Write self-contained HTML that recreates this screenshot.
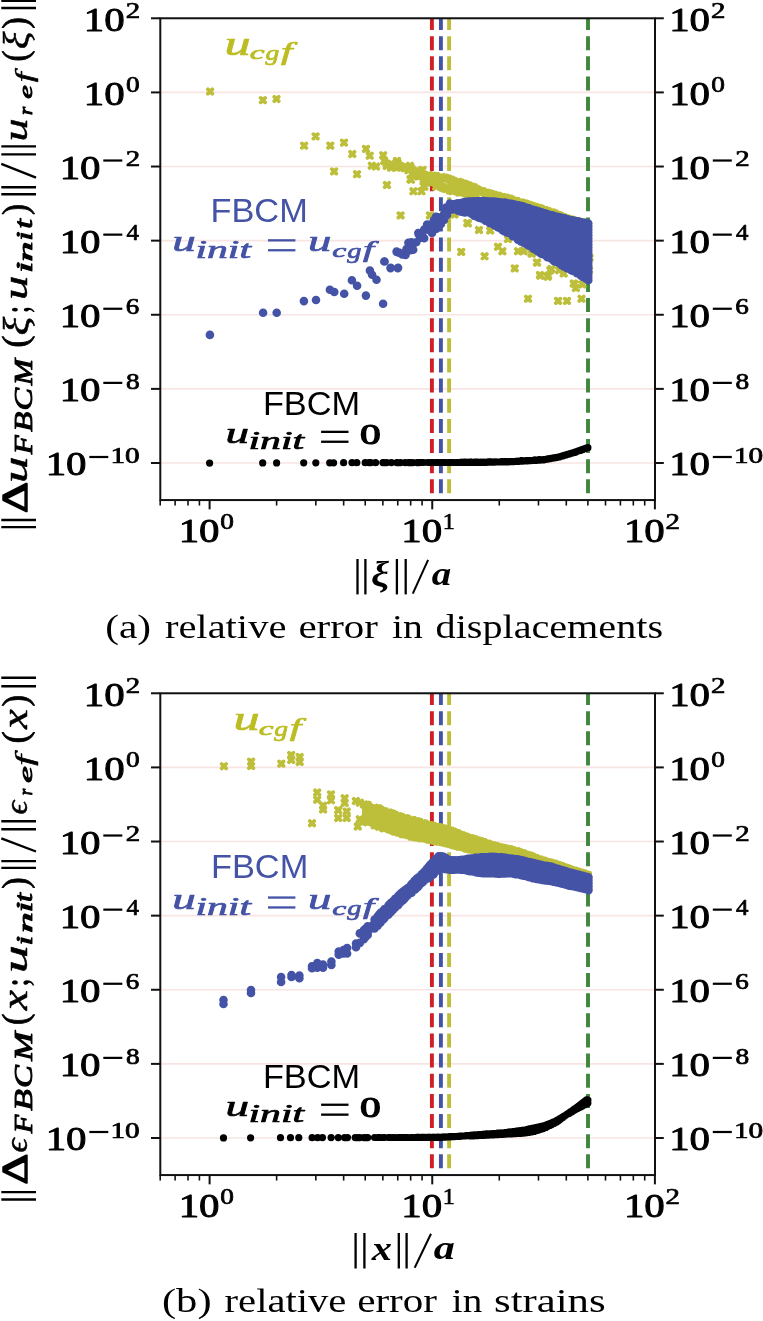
<!DOCTYPE html>
<html><head><meta charset="utf-8"><style>
html,body{margin:0;padding:0;background:#fff;}
body{width:763px;height:1321px;overflow:hidden;}
svg{display:block;filter:blur(0.35px);}
</style></head><body>
<svg width="763" height="1321" viewBox="0 0 763 1321">
<line x1="161.3" y1="92.40" x2="654.0" y2="92.40" stroke="#f9e4e4" stroke-width="1.6"/>
<line x1="161.3" y1="166.52" x2="654.0" y2="166.52" stroke="#f9e4e4" stroke-width="1.6"/>
<line x1="161.3" y1="240.64" x2="654.0" y2="240.64" stroke="#f9e4e4" stroke-width="1.6"/>
<line x1="161.3" y1="314.76" x2="654.0" y2="314.76" stroke="#f9e4e4" stroke-width="1.6"/>
<line x1="161.3" y1="388.88" x2="654.0" y2="388.88" stroke="#f9e4e4" stroke-width="1.6"/>
<line x1="161.3" y1="463.00" x2="654.0" y2="463.00" stroke="#f9e4e4" stroke-width="1.6"/>
<line x1="431.9" y1="18.28" x2="431.9" y2="499.06" stroke="#d21f26" stroke-width="3.9" stroke-dasharray="14,6.14" stroke-dashoffset="2.2"/>
<line x1="440.9" y1="18.28" x2="440.9" y2="499.06" stroke="#4453a6" stroke-width="3.9" stroke-dasharray="14,6.14" stroke-dashoffset="2.2"/>
<line x1="449.1" y1="18.28" x2="449.1" y2="499.06" stroke="#bdbf3a" stroke-width="3.9" stroke-dasharray="14,6.14" stroke-dashoffset="2.2"/>
<line x1="588.0" y1="18.28" x2="588.0" y2="499.06" stroke="#3e873c" stroke-width="3.9" stroke-dasharray="14,6.14" stroke-dashoffset="2.2"/>
<line x1="161.3" y1="767.40" x2="654.0" y2="767.40" stroke="#f9e4e4" stroke-width="1.6"/>
<line x1="161.3" y1="841.52" x2="654.0" y2="841.52" stroke="#f9e4e4" stroke-width="1.6"/>
<line x1="161.3" y1="915.64" x2="654.0" y2="915.64" stroke="#f9e4e4" stroke-width="1.6"/>
<line x1="161.3" y1="989.76" x2="654.0" y2="989.76" stroke="#f9e4e4" stroke-width="1.6"/>
<line x1="161.3" y1="1063.88" x2="654.0" y2="1063.88" stroke="#f9e4e4" stroke-width="1.6"/>
<line x1="161.3" y1="1138.00" x2="654.0" y2="1138.00" stroke="#f9e4e4" stroke-width="1.6"/>
<line x1="431.9" y1="693.28" x2="431.9" y2="1174.06" stroke="#d21f26" stroke-width="3.9" stroke-dasharray="14,6.14" stroke-dashoffset="2.2"/>
<line x1="440.9" y1="693.28" x2="440.9" y2="1174.06" stroke="#4453a6" stroke-width="3.9" stroke-dasharray="14,6.14" stroke-dashoffset="2.2"/>
<line x1="449.1" y1="693.28" x2="449.1" y2="1174.06" stroke="#bdbf3a" stroke-width="3.9" stroke-dasharray="14,6.14" stroke-dashoffset="2.2"/>
<line x1="588.0" y1="693.28" x2="588.0" y2="1174.06" stroke="#3e873c" stroke-width="3.9" stroke-dasharray="14,6.14" stroke-dashoffset="2.2"/>
<path d="M207.9 89.3l4.4 4.4m0 -4.4l-4.4 4.4M260.7 97.9l4.4 4.4m0 -4.4l-4.4 4.4M274.3 96.8l4.4 4.4m0 -4.4l-4.4 4.4M301.9 143.4l4.4 4.4m0 -4.4l-4.4 4.4M313.4 134.2l4.4 4.4m0 -4.4l-4.4 4.4M328.1 143.4l4.4 4.4m0 -4.4l-4.4 4.4M341.8 140.4l4.4 4.4m0 -4.4l-4.4 4.4M350.1 151.8l4.4 4.4m0 -4.4l-4.4 4.4M331.9 169.2l4.4 4.4m0 -4.4l-4.4 4.4M354.8 171.9l4.4 4.4m0 -4.4l-4.4 4.4M363.8 146.7l4.4 4.4m0 -4.4l-4.4 4.4M367.5 153.4l4.4 4.4m0 -4.4l-4.4 4.4M369.6 163.5l4.4 4.4m0 -4.4l-4.4 4.4M373.8 164.3l4.4 4.4m0 -4.4l-4.4 4.4M381 153l4.4 4.4m0 -4.4l-4.4 4.4M382 158.7l4.4 4.4m0 -4.4l-4.4 4.4M384.7 182.8l4.4 4.4m0 -4.4l-4.4 4.4M388.9 165.6l4.4 4.4m0 -4.4l-4.4 4.4M394.8 158.7l4.4 4.4m0 -4.4l-4.4 4.4M395.2 165l4.4 4.4m0 -4.4l-4.4 4.4M398.4 213.2l4.4 4.4m0 -4.4l-4.4 4.4M402.6 166l4.4 4.4m0 -4.4l-4.4 4.4M407.8 163.5l4.4 4.4m0 -4.4l-4.4 4.4M408.2 177.1l4.4 4.4m0 -4.4l-4.4 4.4M411.2 189.1l4.4 4.4m0 -4.4l-4.4 4.4M415.1 168.1l4.4 4.4m0 -4.4l-4.4 4.4M420.4 167.7l4.4 4.4m0 -4.4l-4.4 4.4M419.3 189.1l4.4 4.4m0 -4.4l-4.4 4.4M422.1 184.5l4.4 4.4m0 -4.4l-4.4 4.4M426.7 172.7l4.4 4.4m0 -4.4l-4.4 4.4M428.8 178.6l4.4 4.4m0 -4.4l-4.4 4.4M434 174.4l4.4 4.4m0 -4.4l-4.4 4.4M434 184.5l4.4 4.4m0 -4.4l-4.4 4.4M427.7 213.2l4.4 4.4m0 -4.4l-4.4 4.4M408.8 177.6l4.4 4.4m0 -4.4l-4.4 4.4M421.4 183.7l4.4 4.4m0 -4.4l-4.4 4.4M465.7 221.2l4.4 4.4m0 -4.4l-4.4 4.4M476.8 227.8l4.4 4.4m0 -4.4l-4.4 4.4M488 228.3l4.4 4.4m0 -4.4l-4.4 4.4M459 249.7l4.4 4.4m0 -4.4l-4.4 4.4M482.4 254.1l4.4 4.4m0 -4.4l-4.4 4.4M495.8 244.6l4.4 4.4m0 -4.4l-4.4 4.4M500.2 249l4.4 4.4m0 -4.4l-4.4 4.4M505.8 236.8l4.4 4.4m0 -4.4l-4.4 4.4M512.5 266.2l4.4 4.4m0 -4.4l-4.4 4.4M515.8 249l4.4 4.4m0 -4.4l-4.4 4.4M521.4 249l4.4 4.4m0 -4.4l-4.4 4.4M529.2 251.2l4.4 4.4m0 -4.4l-4.4 4.4M534.8 260.2l4.4 4.4m0 -4.4l-4.4 4.4M538.1 273.5l4.4 4.4m0 -4.4l-4.4 4.4M545.9 273.5l4.4 4.4m0 -4.4l-4.4 4.4M548.1 268l4.4 4.4m0 -4.4l-4.4 4.4M557 268l4.4 4.4m0 -4.4l-4.4 4.4M561.5 271.3l4.4 4.4m0 -4.4l-4.4 4.4M571.5 281.3l4.4 4.4m0 -4.4l-4.4 4.4M573.7 285.8l4.4 4.4m0 -4.4l-4.4 4.4M525.8 296.5l4.4 4.4m0 -4.4l-4.4 4.4M555.9 298.7l4.4 4.4m0 -4.4l-4.4 4.4M564.8 298.7l4.4 4.4m0 -4.4l-4.4 4.4M579.3 296.5l4.4 4.4m0 -4.4l-4.4 4.4M452.3 212.3l4.4 4.4m0 -4.4l-4.4 4.4M465.1 220.8l4.4 4.4m0 -4.4l-4.4 4.4M545.5 274.5l4.4 4.4m0 -4.4l-4.4 4.4M549.1 266.8l4.4 4.4m0 -4.4l-4.4 4.4M572.1 281.6l4.4 4.4m0 -4.4l-4.4 4.4M580.3 282.2l4.4 4.4m0 -4.4l-4.4 4.4M521.3 248.6l4.4 4.4m0 -4.4l-4.4 4.4M529.6 251.5l4.4 4.4m0 -4.4l-4.4 4.4M587.4 255.6l4.4 4.4m0 -4.4l-4.4 4.4M586.8 267.8l4.4 4.4m0 -4.4l-4.4 4.4M534.9 260.4l4.4 4.4m0 -4.4l-4.4 4.4M537.8 272.8l4.4 4.4m0 -4.4l-4.4 4.4M439.3 174.8l4.4 4.4m0 -4.4l-4.4 4.4M439.3 184.6l4.4 4.4m0 -4.4l-4.4 4.4M440.5 175.6l4.4 4.4m0 -4.4l-4.4 4.4M440.5 184.8l4.4 4.4m0 -4.4l-4.4 4.4M441.6 175.8l4.4 4.4m0 -4.4l-4.4 4.4M441.6 185.8l4.4 4.4m0 -4.4l-4.4 4.4M442.4 175.4l4.4 4.4m0 -4.4l-4.4 4.4M442.4 186.3l4.4 4.4m0 -4.4l-4.4 4.4M443.8 175.9l4.4 4.4m0 -4.4l-4.4 4.4M443.8 186.7l4.4 4.4m0 -4.4l-4.4 4.4M446 176.5l4.4 4.4m0 -4.4l-4.4 4.4M446 186.5l4.4 4.4m0 -4.4l-4.4 4.4M447.7 177.5l4.4 4.4m0 -4.4l-4.4 4.4M447.7 188.3l4.4 4.4m0 -4.4l-4.4 4.4M448.7 177.4l4.4 4.4m0 -4.4l-4.4 4.4M448.7 187.3l4.4 4.4m0 -4.4l-4.4 4.4M450 178.4l4.4 4.4m0 -4.4l-4.4 4.4M450 189.1l4.4 4.4m0 -4.4l-4.4 4.4M451.5 178.8l4.4 4.4m0 -4.4l-4.4 4.4M451.5 188.3l4.4 4.4m0 -4.4l-4.4 4.4M453.7 179.9l4.4 4.4m0 -4.4l-4.4 4.4M453.7 188.1l4.4 4.4m0 -4.4l-4.4 4.4M455.4 180.3l4.4 4.4m0 -4.4l-4.4 4.4M455.4 188.9l4.4 4.4m0 -4.4l-4.4 4.4M456 179.6l4.4 4.4m0 -4.4l-4.4 4.4M456 188.7l4.4 4.4m0 -4.4l-4.4 4.4M457.1 180.2l4.4 4.4m0 -4.4l-4.4 4.4M457.1 190.3l4.4 4.4m0 -4.4l-4.4 4.4M458.7 180.5l4.4 4.4m0 -4.4l-4.4 4.4M458.7 190.2l4.4 4.4m0 -4.4l-4.4 4.4M459.3 181.3l4.4 4.4m0 -4.4l-4.4 4.4M459.3 189.8l4.4 4.4m0 -4.4l-4.4 4.4M460.8 181.7l4.4 4.4m0 -4.4l-4.4 4.4M460.8 189.5l4.4 4.4m0 -4.4l-4.4 4.4M461.6 181.4l4.4 4.4m0 -4.4l-4.4 4.4M461.6 190l4.4 4.4m0 -4.4l-4.4 4.4M462.6 182.5l4.4 4.4m0 -4.4l-4.4 4.4M462.6 190.6l4.4 4.4m0 -4.4l-4.4 4.4M463.3 182.3l4.4 4.4m0 -4.4l-4.4 4.4M463.3 191.1l4.4 4.4m0 -4.4l-4.4 4.4M463.8 182.6l4.4 4.4m0 -4.4l-4.4 4.4M463.8 190.6l4.4 4.4m0 -4.4l-4.4 4.4M465.5 183.6l4.4 4.4m0 -4.4l-4.4 4.4M465.5 191.7l4.4 4.4m0 -4.4l-4.4 4.4M466.2 183.2l4.4 4.4m0 -4.4l-4.4 4.4M466.2 191.6l4.4 4.4m0 -4.4l-4.4 4.4M467.5 184l4.4 4.4m0 -4.4l-4.4 4.4M467.5 192.5l4.4 4.4m0 -4.4l-4.4 4.4M467.9 184.4l4.4 4.4m0 -4.4l-4.4 4.4M467.9 191.4l4.4 4.4m0 -4.4l-4.4 4.4M468.8 185.1l4.4 4.4m0 -4.4l-4.4 4.4M468.8 191.2l4.4 4.4m0 -4.4l-4.4 4.4M469.3 184.7l4.4 4.4m0 -4.4l-4.4 4.4M469.3 192.6l4.4 4.4m0 -4.4l-4.4 4.4M469.9 184.6l4.4 4.4m0 -4.4l-4.4 4.4M469.9 192.2l4.4 4.4m0 -4.4l-4.4 4.4M471.8 185.3l4.4 4.4m0 -4.4l-4.4 4.4M471.8 192.9l4.4 4.4m0 -4.4l-4.4 4.4M472.6 186.6l4.4 4.4m0 -4.4l-4.4 4.4M472.6 192.9l4.4 4.4m0 -4.4l-4.4 4.4M473.2 187l4.4 4.4m0 -4.4l-4.4 4.4M473.2 192.5l4.4 4.4m0 -4.4l-4.4 4.4M473.8 187l4.4 4.4m0 -4.4l-4.4 4.4M473.8 193.2l4.4 4.4m0 -4.4l-4.4 4.4M474.7 187.3l4.4 4.4m0 -4.4l-4.4 4.4M475.5 187.5l4.4 4.4m0 -4.4l-4.4 4.4M476.1 188.2l4.4 4.4m0 -4.4l-4.4 4.4M477.7 189.1l4.4 4.4m0 -4.4l-4.4 4.4M478.3 188.7l4.4 4.4m0 -4.4l-4.4 4.4M479.3 189.3l4.4 4.4m0 -4.4l-4.4 4.4M480.3 189l4.4 4.4m0 -4.4l-4.4 4.4M481.4 190.1l4.4 4.4m0 -4.4l-4.4 4.4M481.9 190.2l4.4 4.4m0 -4.4l-4.4 4.4M483.2 191.1l4.4 4.4m0 -4.4l-4.4 4.4M483.8 191.1l4.4 4.4m0 -4.4l-4.4 4.4M484.3 190.6l4.4 4.4m0 -4.4l-4.4 4.4M485.2 191.1l4.4 4.4m0 -4.4l-4.4 4.4M485.7 191.6l4.4 4.4m0 -4.4l-4.4 4.4M486.9 191.2l4.4 4.4m0 -4.4l-4.4 4.4M487.3 191.9l4.4 4.4m0 -4.4l-4.4 4.4M487.9 191.7l4.4 4.4m0 -4.4l-4.4 4.4M488.6 191.9l4.4 4.4m0 -4.4l-4.4 4.4M489.6 192l4.4 4.4m0 -4.4l-4.4 4.4M490.5 193.1l4.4 4.4m0 -4.4l-4.4 4.4M492.1 192.7l4.4 4.4m0 -4.4l-4.4 4.4M492.5 193l4.4 4.4m0 -4.4l-4.4 4.4M493.6 193.4l4.4 4.4m0 -4.4l-4.4 4.4M494.5 194.2l4.4 4.4m0 -4.4l-4.4 4.4M495.5 193.5l4.4 4.4m0 -4.4l-4.4 4.4M496.7 194.3l4.4 4.4m0 -4.4l-4.4 4.4M497.4 194.6l4.4 4.4m0 -4.4l-4.4 4.4M498.2 195.1l4.4 4.4m0 -4.4l-4.4 4.4M499.1 195.3l4.4 4.4m0 -4.4l-4.4 4.4M499.5 195.5l4.4 4.4m0 -4.4l-4.4 4.4M500.2 194.9l4.4 4.4m0 -4.4l-4.4 4.4M500.8 195.2l4.4 4.4m0 -4.4l-4.4 4.4M501.2 195.3l4.4 4.4m0 -4.4l-4.4 4.4M501.8 196.1l4.4 4.4m0 -4.4l-4.4 4.4M502.6 196.3l4.4 4.4m0 -4.4l-4.4 4.4M503.1 195.5l4.4 4.4m0 -4.4l-4.4 4.4M503.5 195.6l4.4 4.4m0 -4.4l-4.4 4.4M504.1 195.9l4.4 4.4m0 -4.4l-4.4 4.4M504.7 196l4.4 4.4m0 -4.4l-4.4 4.4M505.4 196.5l4.4 4.4m0 -4.4l-4.4 4.4M506 196.8l4.4 4.4m0 -4.4l-4.4 4.4M506.6 196.5l4.4 4.4m0 -4.4l-4.4 4.4M507.5 196.4l4.4 4.4m0 -4.4l-4.4 4.4M508.5 197.3l4.4 4.4m0 -4.4l-4.4 4.4M509.1 197.4l4.4 4.4m0 -4.4l-4.4 4.4M510 198l4.4 4.4m0 -4.4l-4.4 4.4M510.6 198.6l4.4 4.4m0 -4.4l-4.4 4.4M511.7 198.7l4.4 4.4m0 -4.4l-4.4 4.4M512.2 198.7l4.4 4.4m0 -4.4l-4.4 4.4M512.7 199l4.4 4.4m0 -4.4l-4.4 4.4M513.3 199.2l4.4 4.4m0 -4.4l-4.4 4.4M513.9 198.7l4.4 4.4m0 -4.4l-4.4 4.4M514.7 200l4.4 4.4m0 -4.4l-4.4 4.4M515.7 200.2l4.4 4.4m0 -4.4l-4.4 4.4M516.4 200.6l4.4 4.4m0 -4.4l-4.4 4.4M516.9 200.6l4.4 4.4m0 -4.4l-4.4 4.4M517.7 200.4l4.4 4.4m0 -4.4l-4.4 4.4M518.2 200.6l4.4 4.4m0 -4.4l-4.4 4.4M518.7 200.4l4.4 4.4m0 -4.4l-4.4 4.4M519.1 201.2l4.4 4.4m0 -4.4l-4.4 4.4M519.6 200.6l4.4 4.4m0 -4.4l-4.4 4.4M520 200.7l4.4 4.4m0 -4.4l-4.4 4.4M520.6 201.1l4.4 4.4m0 -4.4l-4.4 4.4M521.1 201.2l4.4 4.4m0 -4.4l-4.4 4.4M521.9 201.7l4.4 4.4m0 -4.4l-4.4 4.4M522.4 201.4l4.4 4.4m0 -4.4l-4.4 4.4M523 201.6l4.4 4.4m0 -4.4l-4.4 4.4M523.5 201.9l4.4 4.4m0 -4.4l-4.4 4.4M524.1 202l4.4 4.4m0 -4.4l-4.4 4.4M524.7 202.5l4.4 4.4m0 -4.4l-4.4 4.4M525.6 202.4l4.4 4.4m0 -4.4l-4.4 4.4M526 203.5l4.4 4.4m0 -4.4l-4.4 4.4M526.8 203.4l4.4 4.4m0 -4.4l-4.4 4.4M527.5 203.1l4.4 4.4m0 -4.4l-4.4 4.4M528.3 203.5l4.4 4.4m0 -4.4l-4.4 4.4M528.9 203.8l4.4 4.4m0 -4.4l-4.4 4.4M529.6 204l4.4 4.4m0 -4.4l-4.4 4.4M530.2 203.9l4.4 4.4m0 -4.4l-4.4 4.4M530.8 205l4.4 4.4m0 -4.4l-4.4 4.4M531.2 205.3l4.4 4.4m0 -4.4l-4.4 4.4M531.7 204.8l4.4 4.4m0 -4.4l-4.4 4.4M532.3 205l4.4 4.4m0 -4.4l-4.4 4.4M532.8 204.7l4.4 4.4m0 -4.4l-4.4 4.4M533.2 204.8l4.4 4.4m0 -4.4l-4.4 4.4M533.7 205.3l4.4 4.4m0 -4.4l-4.4 4.4M534.5 205.5l4.4 4.4m0 -4.4l-4.4 4.4M535 206.3l4.4 4.4m0 -4.4l-4.4 4.4M535.7 205.7l4.4 4.4m0 -4.4l-4.4 4.4M536.3 205.7l4.4 4.4m0 -4.4l-4.4 4.4M536.9 207.1l4.4 4.4m0 -4.4l-4.4 4.4M537.4 206.7l4.4 4.4m0 -4.4l-4.4 4.4M537.9 206.4l4.4 4.4m0 -4.4l-4.4 4.4M538.3 207l4.4 4.4m0 -4.4l-4.4 4.4M538.8 206.5l4.4 4.4m0 -4.4l-4.4 4.4M539.5 207.3l4.4 4.4m0 -4.4l-4.4 4.4M540 208.1l4.4 4.4m0 -4.4l-4.4 4.4M540.4 208.1l4.4 4.4m0 -4.4l-4.4 4.4M540.9 208l4.4 4.4m0 -4.4l-4.4 4.4M541.8 207.7l4.4 4.4m0 -4.4l-4.4 4.4M542.4 208.1l4.4 4.4m0 -4.4l-4.4 4.4M542.9 208l4.4 4.4m0 -4.4l-4.4 4.4M543.6 208.9l4.4 4.4m0 -4.4l-4.4 4.4M544.1 208.8l4.4 4.4m0 -4.4l-4.4 4.4M544.6 209.2l4.4 4.4m0 -4.4l-4.4 4.4M545.2 208.9l4.4 4.4m0 -4.4l-4.4 4.4M545.6 208.9l4.4 4.4m0 -4.4l-4.4 4.4M546.3 209.8l4.4 4.4m0 -4.4l-4.4 4.4M546.8 210.2l4.4 4.4m0 -4.4l-4.4 4.4M547.2 210.1l4.4 4.4m0 -4.4l-4.4 4.4M547.8 210.3l4.4 4.4m0 -4.4l-4.4 4.4M548.3 210.5l4.4 4.4m0 -4.4l-4.4 4.4M548.7 210.6l4.4 4.4m0 -4.4l-4.4 4.4M549.5 210.3l4.4 4.4m0 -4.4l-4.4 4.4M550.1 210.8l4.4 4.4m0 -4.4l-4.4 4.4M550.6 210.8l4.4 4.4m0 -4.4l-4.4 4.4M551.2 210.7l4.4 4.4m0 -4.4l-4.4 4.4M551.6 210.9l4.4 4.4m0 -4.4l-4.4 4.4M552.1 211.4l4.4 4.4m0 -4.4l-4.4 4.4M552.6 211.5l4.4 4.4m0 -4.4l-4.4 4.4M553 212.2l4.4 4.4m0 -4.4l-4.4 4.4M553.7 212.8l4.4 4.4m0 -4.4l-4.4 4.4M554.2 212.4l4.4 4.4m0 -4.4l-4.4 4.4M554.7 213.2l4.4 4.4m0 -4.4l-4.4 4.4M555.2 213.5l4.4 4.4m0 -4.4l-4.4 4.4M555.7 213.6l4.4 4.4m0 -4.4l-4.4 4.4M556.2 213.1l4.4 4.4m0 -4.4l-4.4 4.4M556.6 213.1l4.4 4.4m0 -4.4l-4.4 4.4M557.2 213.4l4.4 4.4m0 -4.4l-4.4 4.4M557.6 213.5l4.4 4.4m0 -4.4l-4.4 4.4M558.1 213.8l4.4 4.4m0 -4.4l-4.4 4.4M558.5 214.4l4.4 4.4m0 -4.4l-4.4 4.4M559.1 215l4.4 4.4m0 -4.4l-4.4 4.4M559.5 215.2l4.4 4.4m0 -4.4l-4.4 4.4M560 215l4.4 4.4m0 -4.4l-4.4 4.4M560.6 215.4l4.4 4.4m0 -4.4l-4.4 4.4M561 215.8l4.4 4.4m0 -4.4l-4.4 4.4M561.5 215.1l4.4 4.4m0 -4.4l-4.4 4.4M562 216l4.4 4.4m0 -4.4l-4.4 4.4M562.5 216.6l4.4 4.4m0 -4.4l-4.4 4.4M562.9 216.6l4.4 4.4m0 -4.4l-4.4 4.4M563.3 216.7l4.4 4.4m0 -4.4l-4.4 4.4M563.8 216.5l4.4 4.4m0 -4.4l-4.4 4.4M564.4 216.3l4.4 4.4m0 -4.4l-4.4 4.4M564.8 217.1l4.4 4.4m0 -4.4l-4.4 4.4M565.3 216.7l4.4 4.4m0 -4.4l-4.4 4.4M565.8 217.4l4.4 4.4m0 -4.4l-4.4 4.4M566.3 217.7l4.4 4.4m0 -4.4l-4.4 4.4M566.8 217.2l4.4 4.4m0 -4.4l-4.4 4.4M567.3 217.3l4.4 4.4m0 -4.4l-4.4 4.4M567.7 218.1l4.4 4.4m0 -4.4l-4.4 4.4M568.2 218l4.4 4.4m0 -4.4l-4.4 4.4M568.6 217.4l4.4 4.4m0 -4.4l-4.4 4.4M569.1 217.5l4.4 4.4m0 -4.4l-4.4 4.4M569.6 217.7l4.4 4.4m0 -4.4l-4.4 4.4M570 218.7l4.4 4.4m0 -4.4l-4.4 4.4M570.5 218.7l4.4 4.4m0 -4.4l-4.4 4.4M570.9 218.1l4.4 4.4m0 -4.4l-4.4 4.4M571.4 219l4.4 4.4m0 -4.4l-4.4 4.4M571.9 219.3l4.4 4.4m0 -4.4l-4.4 4.4M572.3 219.1l4.4 4.4m0 -4.4l-4.4 4.4M573 218.9l4.4 4.4m0 -4.4l-4.4 4.4M573.6 219.2l4.4 4.4m0 -4.4l-4.4 4.4M574.2 218.9l4.4 4.4m0 -4.4l-4.4 4.4M574.7 218.8l4.4 4.4m0 -4.4l-4.4 4.4M575.2 220.1l4.4 4.4m0 -4.4l-4.4 4.4M575.6 219.8l4.4 4.4m0 -4.4l-4.4 4.4M576.1 219.8l4.4 4.4m0 -4.4l-4.4 4.4M576.6 220.4l4.4 4.4m0 -4.4l-4.4 4.4M577 219.8l4.4 4.4m0 -4.4l-4.4 4.4M577.4 220.5l4.4 4.4m0 -4.4l-4.4 4.4M577.9 220.5l4.4 4.4m0 -4.4l-4.4 4.4M578.4 219.9l4.4 4.4m0 -4.4l-4.4 4.4M578.8 220l4.4 4.4m0 -4.4l-4.4 4.4M579.2 220.2l4.4 4.4m0 -4.4l-4.4 4.4M579.7 220.2l4.4 4.4m0 -4.4l-4.4 4.4M580.3 220.7l4.4 4.4m0 -4.4l-4.4 4.4M580.7 220.5l4.4 4.4m0 -4.4l-4.4 4.4M581.2 220.8l4.4 4.4m0 -4.4l-4.4 4.4M581.7 220.5l4.4 4.4m0 -4.4l-4.4 4.4M582.2 221.6l4.4 4.4m0 -4.4l-4.4 4.4M582.6 221l4.4 4.4m0 -4.4l-4.4 4.4M583.1 221.2l4.4 4.4m0 -4.4l-4.4 4.4M583.5 221.5l4.4 4.4m0 -4.4l-4.4 4.4M583.9 222l4.4 4.4m0 -4.4l-4.4 4.4M584.4 221.5l4.4 4.4m0 -4.4l-4.4 4.4M584.8 222.3l4.4 4.4m0 -4.4l-4.4 4.4M585.3 221.9l4.4 4.4m0 -4.4l-4.4 4.4M585.7 222l4.4 4.4m0 -4.4l-4.4 4.4M384.5 163.8l4.4 4.4m0 -4.4l-4.4 4.4M384.5 161.4l4.4 4.4m0 -4.4l-4.4 4.4M389.2 163.2l4.4 4.4m0 -4.4l-4.4 4.4M389.2 161.7l4.4 4.4m0 -4.4l-4.4 4.4M394.6 160.1l4.4 4.4m0 -4.4l-4.4 4.4M394.6 165.4l4.4 4.4m0 -4.4l-4.4 4.4M395.6 161.3l4.4 4.4m0 -4.4l-4.4 4.4M395.6 163.3l4.4 4.4m0 -4.4l-4.4 4.4M398.4 165.3l4.4 4.4m0 -4.4l-4.4 4.4M398.4 164.1l4.4 4.4m0 -4.4l-4.4 4.4M402.9 164l4.4 4.4m0 -4.4l-4.4 4.4M402.9 165.3l4.4 4.4m0 -4.4l-4.4 4.4M406.2 166.6l4.4 4.4m0 -4.4l-4.4 4.4M406.2 168.1l4.4 4.4m0 -4.4l-4.4 4.4M407.7 164.2l4.4 4.4m0 -4.4l-4.4 4.4M407.7 167.2l4.4 4.4m0 -4.4l-4.4 4.4M408.5 165.5l4.4 4.4m0 -4.4l-4.4 4.4M408.5 165.7l4.4 4.4m0 -4.4l-4.4 4.4M410.7 170.1l4.4 4.4m0 -4.4l-4.4 4.4M410.7 168.3l4.4 4.4m0 -4.4l-4.4 4.4M414.8 170.8l4.4 4.4m0 -4.4l-4.4 4.4M414.8 172.3l4.4 4.4m0 -4.4l-4.4 4.4M416.1 174.3l4.4 4.4m0 -4.4l-4.4 4.4M416.1 170.5l4.4 4.4m0 -4.4l-4.4 4.4M416.8 172.2l4.4 4.4m0 -4.4l-4.4 4.4M416.8 171.3l4.4 4.4m0 -4.4l-4.4 4.4M418.7 172.3l4.4 4.4m0 -4.4l-4.4 4.4M418.7 173.8l4.4 4.4m0 -4.4l-4.4 4.4M419.9 172.3l4.4 4.4m0 -4.4l-4.4 4.4M419.9 173l4.4 4.4m0 -4.4l-4.4 4.4M421.6 173.3l4.4 4.4m0 -4.4l-4.4 4.4M421.6 177.4l4.4 4.4m0 -4.4l-4.4 4.4M425.5 177.1l4.4 4.4m0 -4.4l-4.4 4.4M425.5 178.7l4.4 4.4m0 -4.4l-4.4 4.4M426.5 179.8l4.4 4.4m0 -4.4l-4.4 4.4M426.5 173.5l4.4 4.4m0 -4.4l-4.4 4.4M428.6 177l4.4 4.4m0 -4.4l-4.4 4.4M428.6 180.5l4.4 4.4m0 -4.4l-4.4 4.4M430.1 179.6l4.4 4.4m0 -4.4l-4.4 4.4M430.1 173.5l4.4 4.4m0 -4.4l-4.4 4.4M431.5 173.7l4.4 4.4m0 -4.4l-4.4 4.4M431.5 176.4l4.4 4.4m0 -4.4l-4.4 4.4M433.8 173.9l4.4 4.4m0 -4.4l-4.4 4.4M433.8 175.2l4.4 4.4m0 -4.4l-4.4 4.4M434.2 174.1l4.4 4.4m0 -4.4l-4.4 4.4M434.2 178.5l4.4 4.4m0 -4.4l-4.4 4.4M435.1 179.4l4.4 4.4m0 -4.4l-4.4 4.4M435.1 180.3l4.4 4.4m0 -4.4l-4.4 4.4M435.5 175l4.4 4.4m0 -4.4l-4.4 4.4M435.5 179l4.4 4.4m0 -4.4l-4.4 4.4M437.6 178.8l4.4 4.4m0 -4.4l-4.4 4.4M437.6 175.5l4.4 4.4m0 -4.4l-4.4 4.4" fill="none" stroke="#bdbf3a" stroke-width="3.8" stroke-linecap="round"/>
<path d="M447 204.8 L449 204 L451 203.3 L453 202.7 L455 202.1 L457 201.6 L459 201.2 L461 200.9 L463 200.5 L465 200.2 L467 200 L469 199.9 L471 199.8 L473 199.6 L475 199.5 L477 199.5 L479 199.4 L481 199.4 L483 199.4 L485 199.4 L487 199.5 L489 199.6 L491 199.7 L493 199.8 L495 199.9 L497 200.1 L499 200.3 L501 200.5 L503 200.7 L505 200.9 L507 201.2 L509 201.6 L511 201.9 L513 202.2 L515 202.6 L517 203.1 L519 203.6 L521 204.1 L523 204.7 L525 205.2 L527 205.9 L529 206.5 L531 207.2 L533 207.9 L535 208.6 L537 209.2 L539 209.8 L541 210.4 L543 211 L545 211.6 L547 212.1 L549 212.7 L551 213.3 L553 213.8 L555 214.4 L557 214.9 L559 215.4 L561 215.9 L563 216.4 L565 216.9 L567 217.3 L569 217.8 L571 218.3 L573 218.7 L575 219.2 L577 219.6 L579 219.9 L581 220.3 L583 220.7 L585 221.1 L587 221.5 L589 221.9 L589 282.4 L587 281.2 L585 280 L583 278.8 L581 277.6 L579 276.4 L577 275.1 L575 273.9 L573 272.9 L571 271.9 L569 270.9 L567 269.9 L565 268.9 L563 267.9 L561 266.8 L559 265.8 L557 264.7 L555 263.6 L553 262.6 L551 261.4 L549 260.2 L547 259 L545 257.8 L543 256.5 L541 255.3 L539 254.1 L537 252.8 L535 251.6 L533 250.3 L531 249 L529 247.9 L527 246.7 L525 245.6 L523 244.5 L521 243.3 L519 242.2 L517 241 L515 239.7 L513 238.5 L511 237.2 L509 235.9 L507 234.7 L505 233.5 L503 232.3 L501 231.1 L499 229.8 L497 228.6 L495 227.5 L493 226.4 L491 225.4 L489 224.5 L487 223.5 L485 222.5 L483 221.4 L481 220.6 L479 219.8 L477 219.1 L475 218.4 L473 217.4 L471 216.4 L469 215.6 L467 215.1 L465 214.5 L463 213.9 L461 213.4 L459 212.9 L457 212.4 L455 211.9 L453 211.9 L451 211.9 L449 211.9 L447 211.9Z" fill="#4453a6"/>
<path d="M209.9 334.9h0M263.1 312.8h0M276.7 312.8h0M303.9 301.1h0M316 300h0M329.9 289.7h0M334.3 292h0M344.2 293.8h0M351.9 280.2h0M357.1 285.7h0M365.9 295.6h0M369.9 270.6h0M372.1 274.7h0M376.5 279.8h0M383.1 303.7h0M384.6 261.5h0M390.5 268.1h0M397.8 268.1h0M396.7 251.9h0M402.2 254.5h0M411.4 242.4h0M413.2 249.7h0M418.7 234.3h0M424.2 229.5h0M429.7 224.8h0M435.2 218.5h0M384.3 261.5h0M390.7 267.8h0M398.1 267.8h0M396.6 251.6h0M399 252.6h0M401.5 253.6h0M403.5 254.3h0M405.5 255h0M408.4 242.8h0M410.4 244h0M412.4 243.8h0M414.4 243h0M416.3 242.3h0M410.4 250.1h0M406.5 249h0M418.3 233h0M420.2 233.5h0M422.2 233.9h0M424.2 238.3h0M420 238h0M427.1 224.6h0M429 225.3h0M431 226h0M433 229.5h0M429 230h0M436 216.7h0M438 217.2h0M439.9 217.7h0M442.8 219.7h0M439 222h0M445.8 210.8h0M447.2 209.8h0M448.7 208.8h0M444 214h0M447 215h0M434 220h0M436 224h0M441 224h0M444 220h0M432 233h0M436 229h0M446 207.6h0M446 208.7h0M448.2 206.8h0M448.2 209.9h0M449.9 205.7h0M449.9 203.6h0M450.9 205.7h0M450.9 209.7h0M452.2 204.8h0M452.2 207.8h0M453.7 204.4h0M453.7 209.1h0M455.9 203.7h0M455.9 208.9h0M457.6 203.2h0M457.6 207.7h0M458.2 203.6h0M458.2 210.6h0M459.3 203.2h0M459.3 211.1h0M460.9 203.1h0M460.9 210.9h0M461.5 203.3h0M461.5 211.8h0M463 202.9h0M463 211.2h0M463.8 202.3h0M463.8 212.2h0M464.8 202h0M464.8 212.4h0M465.5 202h0M465.5 211.2h0M466 202.2h0M466 209.6h0M467.7 201.9h0M467.7 211.4h0M468.4 201.8h0M468.4 211.2h0M469.7 202.1h0M469.7 212.7h0M470.1 201.6h0M470.1 211.1h0M471 201.8h0M471 213.5h0M471.5 201.5h0M471.5 212h0M472.1 202h0M472.1 214.1h0M474 201.3h0M474 215.7h0M474.8 201.9h0M474.8 215.9h0M475.4 201.6h0M475.4 215.4h0M476 201.9h0M476 214.7h0M476.9 201.4h0M476.9 215.5h0M477.7 201.4h0M477.7 215.7h0M478.3 201.3h0M478.3 217.5h0M479.9 201.3h0M479.9 217.9h0M480.5 201.4h0M480.5 217.4h0M481.5 201.4h0M481.5 215.5h0M482.5 201.5h0M482.5 218.6h0M483.6 201.1h0M483.6 218.2h0M484.1 201.3h0M484.1 216.7h0M485.4 201.6h0M485.4 220.6h0M486 201.3h0M486 216.2h0M486.5 201.3h0M486.5 220.7h0M487.4 201.9h0M487.4 219.6h0M487.9 201.9h0M487.9 221.1h0M489.1 201.6h0M489.1 219.4h0M489.5 202.1h0M489.5 222.9h0M490.1 201.6h0M490.1 221.6h0M490.8 201.9h0M490.8 220.7h0M491.8 201.8h0M491.8 223.7h0M492.7 201.6h0M492.7 223.9h0M494.3 201.6h0M494.3 225.3h0M494.7 201.7h0M494.7 224h0M495.8 201.7h0M495.8 223.8h0M496.7 202.3h0M496.7 223h0M497.7 202.1h0M497.7 227.2h0M498.9 202.4h0M498.9 226.2h0M499.6 202.2h0M499.6 226.9h0M500.4 202.9h0M500.4 228.4h0M501.3 203h0M501.3 227.9h0M501.7 203h0M501.7 229.3h0M502.4 202.6h0M502.4 230.1h0M503 202.7h0M503 230.5h0M503.4 202.8h0M503.4 229.3h0M504 202.9h0M504 231.1h0M504.8 202.6h0M504.8 231.5h0M505.3 203h0M505.3 231h0M505.7 202.8h0M505.7 230.4h0M506.3 203h0M506.3 232.3h0M506.9 203.4h0M506.9 229.3h0M507.6 203.6h0M507.6 232.7h0M508.2 203.7h0M508.2 232.1h0M508.8 203.5h0M508.8 232.6h0M509.7 204.2h0M509.7 232.6h0M510.7 204.1h0M510.7 232.5h0M511.3 203.7h0M511.3 233.3h0M512.2 204.3h0M512.2 232.3h0M512.8 204.5h0M512.8 236.1h0M513.9 204.5h0M513.9 236.2h0M514.4 204.6h0M514.4 235.6h0M514.9 204.9h0M514.9 234.5h0M515.5 204.9h0M515.5 235.7h0M516.1 205.2h0M516.1 236.6h0M516.9 205h0M516.9 238h0M517.9 205.3h0M517.9 239.6h0M518.6 205.3h0M518.6 238.8h0M519.1 205.9h0M519.1 238.2h0M519.9 206.1h0M519.9 239.9h0M520.4 205.7h0M520.4 239h0M520.9 206.5h0M520.9 241.5h0M521.3 206.4h0M521.3 239.2h0M521.8 206.6h0M521.8 238.8h0M522.2 206.4h0M522.2 240.9h0M522.8 206.4h0M522.8 242.3h0M523.3 206.6h0M523.3 239.4h0M524.1 207.3h0M524.1 240.9h0M524.6 207.1h0M524.6 243.3h0M525.2 207.4h0M525.2 242.5h0M525.7 207.6h0M525.7 240.8h0M526.3 207.9h0M526.3 243.5h0M526.9 207.8h0M526.9 244.4h0M527.8 208.4h0M527.8 244.5h0M528.2 208h0M528.2 243h0M529 208.3h0M529 245.7h0M529.7 209.1h0M529.7 243.3h0M530.5 209.3h0M530.5 246.3h0M531.1 209.3h0M531.1 244.8h0M531.8 209.6h0M531.8 244.4h0M532.4 209.6h0M532.4 245h0M533 210.4h0M533 248.2h0M533.4 210.1h0M533.4 248.7h0M533.9 210.6h0M533.9 246.8h0M534.5 210.3h0M534.5 249h0M535 210.5h0M535 248.4h0M535.4 210.9h0M535.4 249.6h0M535.9 210.7h0M535.9 245h0M536.7 210.9h0M536.7 250.1h0M537.2 211.6h0M537.2 246.6h0M537.9 211.7h0M537.9 251.4h0M538.5 211.5h0M538.5 250h0M539.1 211.6h0M539.1 250.9h0M539.6 211.7h0M539.6 250.3h0M540.1 212.1h0M540.1 252.9h0M540.5 212.1h0M540.5 252.2h0M541 212.8h0M541 252h0M541.7 212.3h0M541.7 254h0M542.2 212.6h0M542.2 250.1h0M542.6 213.3h0M542.6 253.5h0M543.1 213h0M543.1 250.3h0M544 213.3h0M544 249.1h0M544.6 213.6h0M544.6 250.8h0M545.1 213.6h0M545.1 254.5h0M545.8 213.6h0M545.8 255.7h0M546.3 213.7h0M546.3 255.9h0M546.8 214.6h0M546.8 255.6h0M547.4 214.2h0M547.4 257.3h0M547.8 214.2h0M547.8 255.1h0M548.5 214.6h0M548.5 253.8h0M549 215.1h0M549 257.2h0M549.4 215h0M549.4 254.3h0M550 215.1h0M550 256.3h0M550.5 215.4h0M550.5 256h0M550.9 215.3h0M550.9 258.5h0M551.7 215.8h0M551.7 259h0M552.3 215.4h0M552.3 259h0M552.8 216.2h0M552.8 259h0M553.4 215.9h0M553.4 259.3h0M553.8 216h0M553.8 260.9h0M554.3 216.1h0M554.3 255.5h0M554.8 216.6h0M554.8 260.9h0M555.2 216.5h0M555.2 259.4h0M555.9 216.5h0M555.9 261.6h0M556.4 217.2h0M556.4 261.4h0M556.9 217h0M556.9 262h0M557.4 217.5h0M557.4 258.5h0M557.9 217.2h0M557.9 262.5h0M558.4 217h0M558.4 262.6h0M558.8 217.3h0M558.8 262.6h0M559.4 217.4h0M559.4 263.4h0M559.8 217.8h0M559.8 261.7h0M560.3 217.8h0M560.3 262.3h0M560.7 217.9h0M560.7 262.8h0M561.3 217.9h0M561.3 264.9h0M561.7 217.8h0M561.7 264.5h0M562.2 218h0M562.2 260.1h0M562.8 218.5h0M562.8 263h0M563.2 218.3h0M563.2 263.1h0M563.7 218.5h0M563.7 266.5h0M564.2 218.7h0M564.2 264.6h0M564.7 219.3h0M564.7 264.5h0M565.1 218.6h0M565.1 263.6h0M565.5 218.7h0M565.5 266.3h0M566 219.2h0M566 263.2h0M566.6 219.4h0M566.6 265.8h0M567 219.8h0M567 268.2h0M567.5 219.8h0M567.5 264.8h0M568 219.5h0M568 264.1h0M568.5 219.5h0M568.5 267.4h0M569 220.1h0M569 267h0M569.5 220.4h0M569.5 268.9h0M569.9 220.3h0M569.9 266.5h0M570.4 220.2h0M570.4 269.3h0M570.8 220.6h0M570.8 269.9h0M571.3 220.2h0M571.3 267.6h0M571.8 220.4h0M571.8 269h0M572.2 220.4h0M572.2 270.8h0M572.7 220.9h0M572.7 267.9h0M573.1 220.6h0M573.1 268.8h0M573.6 221h0M573.6 270.4h0M574.1 221h0M574.1 271.2h0M574.5 220.8h0M574.5 269h0M575.2 221.2h0M575.2 266.9h0M575.8 221.6h0M575.8 271.3h0M576.4 221.9h0M576.4 271.5h0M576.9 221.5h0M576.9 273.1h0M577.4 222.1h0M577.4 273.1h0M577.8 221.4h0M577.8 272.1h0M578.3 221.9h0M578.3 273.2h0M578.8 221.8h0M578.8 272.5h0M579.2 222.2h0M579.2 273.4h0M579.6 221.8h0M579.6 274.3h0M580.1 222.1h0M580.1 272.4h0M580.6 222.1h0M580.6 274h0M581 222.7h0M581 275.7h0M581.4 222.3h0M581.4 273.5h0M581.9 223h0M581.9 274.9h0M582.5 222.5h0M582.5 273h0M582.9 222.6h0M582.9 276.9h0M583.4 223.3h0M583.4 275.5h0M583.9 223h0M583.9 277.1h0M584.4 223h0M584.4 276.5h0M584.8 223.3h0M584.8 277h0M585.3 223.2h0M585.3 278.1h0M585.7 223.1h0M585.7 277.5h0M586.1 223.1h0M586.1 278.8h0M586.6 223.2h0M586.6 275.6h0M587 223.9h0M587 276.6h0M587.5 223.9h0M587.5 274.7h0M587.9 223.6h0M587.9 279.9h0M588.3 223.5h0M588.3 226.5h0M588.3 229.5h0M588.3 232.5h0M588.3 235.5h0M588.3 238.5h0M588.3 241.5h0M588.3 244.5h0M588.3 247.5h0M588.3 250.5h0M588.3 253.5h0M588.3 256.5h0M588.3 259.5h0M588.3 262.5h0M588.3 265.5h0M588.3 268.5h0M588.3 271.5h0M588.3 274.5h0M588.3 277.5h0M588.3 280.3h0" fill="none" stroke="#4453a6" stroke-width="8.60" stroke-linecap="round"/>
<path d="M209.6 463.1h0M262.7 462.9h0M276.6 462.9h0M303.7 462.8h0M315.8 462.8h0M329.7 462.8h0M333.6 462.8h0M343.6 462.7h0M352 462.7h0M356.8 462.7h0M365.2 462.7h0M368.9 462.7h0M370.7 462.7h0M375.6 462.7h0M382.9 462.6h0M384.2 462.6h0M386.7 462.6h0M391.4 462.6h0M396.8 462.6h0M397.8 462.6h0M400.6 462.6h0M405.1 462.6h0M408.4 462.6h0M409.9 462.6h0M410.7 462.6h0M412.9 462.6h0M417 462.6h0M418.3 462.6h0M419 462.6h0M420.9 462.5h0M422.1 462.5h0M423.8 462.5h0M427.7 462.5h0M428.7 462.5h0M430.8 462.5h0M432.2 462.5h0M433.7 462.5h0M436 462.5h0M436.4 462.5h0M437.3 462.5h0M437.7 462.5h0M439.8 462.5h0M441.5 462.5h0M442.7 462.5h0M443.8 462.5h0M444.6 462.5h0M446 462.5h0M448.2 462.5h0M449.9 462.5h0M450.9 462.5h0M452.2 462.5h0M453.7 462.5h0M455.9 462.5h0M457.6 462.5h0M458.2 462.5h0M459.3 462.5h0M460.9 462.4h0M461.5 462.4h0M463 462.4h0M463.8 462.4h0M464.8 462.4h0M465.5 462.4h0M466 462.4h0M467.7 462.4h0M468.4 462.4h0M469.7 462.4h0M470.1 462.4h0M471 462.4h0M471.5 462.4h0M472.1 462.4h0M474 462.4h0M474.8 462.4h0M475.4 462.4h0M476 462.4h0M476.9 462.4h0M477.7 462.4h0M478.3 462.4h0M479.9 462.4h0M480.5 462.4h0M481.5 462.4h0M482.5 462.3h0M483.6 462.3h0M484.1 462.3h0M485.4 462.3h0M486 462.3h0M486.5 462.3h0M487.4 462.2h0M487.9 462.2h0M489.1 462.2h0M489.5 462.2h0M490.1 462.2h0M490.8 462.2h0M491.8 462.1h0M492.7 462.1h0M494.3 462.1h0M494.7 462.1h0M495.8 462h0M496.7 462h0M497.7 462h0M498.9 462h0M499.6 462h0M500.4 461.9h0M501.3 461.9h0M501.7 461.9h0M502.4 461.9h0M503 461.9h0M503.4 461.9h0M504 461.9h0M504.8 461.8h0M505.3 461.8h0M505.7 461.8h0M506.3 461.8h0M506.9 461.8h0M507.6 461.8h0M508.2 461.8h0M508.8 461.8h0M509.7 461.7h0M510.7 461.7h0M511.3 461.7h0M512.2 461.7h0M512.8 461.6h0M513.9 461.6h0M514.4 461.5h0M514.9 461.5h0M515.5 461.5h0M516.1 461.4h0M516.9 461.4h0M517.9 461.3h0M518.6 461.3h0M519.1 461.3h0M519.9 461.2h0M520.4 461.2h0M520.9 461.2h0M521.3 461.1h0M521.8 461.1h0M522.2 461.1h0M522.8 461.1h0M523.3 461h0M524.1 461h0M524.6 461h0M525.2 460.9h0M525.7 460.9h0M526.3 460.8h0M526.9 460.8h0M527.8 460.8h0M528.2 460.7h0M529 460.7h0M529.7 460.7h0M530.5 460.6h0M531.1 460.6h0M531.8 460.5h0M532.4 460.5h0M533 460.5h0M533.4 460.4h0M533.9 460.4h0M534.5 460.4h0M535 460.4h0M535.4 460.3h0M535.9 460.3h0M536.7 460.3h0M537.2 460.2h0M537.9 460.2h0M538.5 460.2h0M539.1 460.1h0M539.6 460.1h0M540.1 460.1h0M540.5 460h0M541 460h0M541.7 460h0M542.2 459.9h0M542.6 459.9h0M543.1 459.9h0M544 459.7h0M544.6 459.6h0M545.1 459.5h0M545.8 459.4h0M546.3 459.3h0M546.8 459.2h0M547.4 459.1h0M547.8 459h0M548.5 458.9h0M549 458.8h0M549.4 458.7h0M550 458.6h0M550.5 458.6h0M550.9 458.5h0M551.7 458.3h0M552.3 458.2h0M552.8 458.1h0M553.4 458h0M553.8 458h0M554.3 457.9h0M554.8 457.8h0M555.2 457.7h0M555.9 457.6h0M556.4 457.5h0M556.9 457.4h0M557.4 457.3h0M557.9 457.2h0M558.4 457.1h0M558.8 457h0M559.4 456.9h0M559.8 456.7h0M560.3 456.6h0M560.7 456.5h0M561.3 456.3h0M561.7 456.2h0M562.2 456h0M562.8 455.9h0M563.2 455.7h0M563.7 455.6h0M564.2 455.4h0M564.7 455.3h0M565.1 455.2h0M565.5 455h0M566 454.9h0M566.6 454.7h0M567 454.6h0M567.5 454.4h0M568 454.3h0M568.5 454.2h0M569 454h0M569.5 453.9h0M569.9 453.7h0M570.4 453.6h0M570.8 453.5h0M571.3 453.3h0M571.8 453.2h0M572.2 453.1h0M572.7 452.9h0M573.1 452.8h0M573.6 452.6h0M574.1 452.5h0M574.5 452.4h0M575.2 452.1h0M575.8 451.9h0M576.4 451.7h0M576.9 451.5h0M577.4 451.3h0M577.8 451.2h0M578.3 451h0M578.8 450.8h0M579.2 450.7h0M579.6 450.5h0M580.1 450.4h0M580.6 450.2h0M581 450h0M581.4 449.9h0M581.9 449.7h0M582.5 449.5h0M582.9 449.4h0M583.4 449.2h0M583.9 449h0M584.4 448.8h0M584.8 448.7h0M585.3 448.5h0M585.7 448.4h0M586.1 448.2h0M586.6 448.1h0M587 447.9h0M587.5 447.8h0M587.9 447.7h0" fill="none" stroke="#000" stroke-width="7.20" stroke-linecap="round"/>
<path d="M362 800.8 L364 801.5 L366 802.1 L368 802.8 L370 803.4 L372 804.1 L374 804.7 L376 805.4 L378 806.1 L380 806.9 L382 807.6 L384 808.4 L386 809.2 L388 810 L390 810.8 L392 811.5 L394 812.3 L396 813 L398 813.6 L400 814.2 L402 814.8 L404 815.4 L406 815.9 L408 816.5 L410 817.1 L412 817.7 L414 818.3 L416 818.9 L418 819.5 L420 820.1 L422 820.7 L424 821.3 L426 821.9 L428 822.5 L430 823.1 L432 823.6 L434 824.1 L436 824.5 L438 825 L440 825.4 L442 826 L444 826.5 L446 827.1 L448 827.6 L450 828.2 L452 829 L454 829.8 L456 830.7 L458 831.5 L460 832.3 L462 833 L464 833.8 L466 834.5 L468 835.3 L470 836 L472 836.5 L474 837.1 L476 837.6 L478 838.2 L480 838.7 L482 839.4 L484 840.2 L486 840.9 L488 841.7 L490 842.4 L492 842.9 L494 843.4 L496 844 L498 844.5 L500 845 L502 845.4 L504 845.9 L506 846.3 L508 846.8 L510 847.2 L512 847.8 L514 848.4 L516 848.9 L518 849.5 L520 850.1 L522 850.8 L524 851.5 L526 852.2 L528 852.9 L530 853.6 L532 854.4 L534 855.2 L536 855.9 L538 856.7 L540 857.5 L542 858.1 L544 858.7 L546 859.2 L548 859.8 L550 860.4 L552 861 L554 861.6 L556 862.3 L558 862.9 L560 863.5 L562 864.3 L564 865.1 L566 865.8 L568 866.6 L570 867.4 L572 868 L574 868.6 L576 869.2 L578 869.8 L580 870.4 L582 871 L584 871.6 L586 872.1 L588 872.7 L588 875 L586 874.5 L584 874 L582 873.4 L580 872.9 L578 872.3 L576 871.8 L574 871.3 L572 870.7 L570 870.2 L568 869.6 L566 869.1 L564 868.6 L562 868.2 L560 867.8 L558 867.4 L556 867 L554 866.6 L552 866.2 L550 865.8 L548 865.4 L546 865 L544 864.6 L542 864.3 L540 864 L538 863.7 L536 863.4 L534 863 L532 862.7 L530 862.4 L528 862.1 L526 861.8 L524 861.4 L522 861.1 L520 860.8 L518 860.4 L516 860 L514 859.6 L512 859.2 L510 858.8 L508 858.4 L506 858 L504 857.6 L502 857.2 L500 856.8 L498 856.4 L496 856 L494 855.6 L492 855.2 L490 854.8 L488 854.4 L486 854 L484 853.6 L482 853.2 L480 852.8 L478 852.5 L476 852.3 L474 852 L472 851.8 L470 851.5 L468 851 L466 850.6 L464 850.1 L462 849.7 L460 849.2 L458 848.6 L456 847.9 L454 847.3 L452 846.6 L450 846 L448 845.6 L446 845.2 L444 844.9 L442 844.5 L440 844.1 L438 843.7 L436 843.3 L434 842.9 L432 842.5 L430 842.1 L428 841.8 L426 841.5 L424 841.1 L422 840.8 L420 840.5 L418 840.1 L416 839.8 L414 839.5 L412 839 L410 838.4 L408 837.8 L406 837.2 L404 836.5 L402 835.9 L400 835.3 L398 834.7 L396 834.1 L394 833.5 L392 832.9 L390 832.3 L388 831.7 L386 831.1 L384 830.5 L382 829.9 L380 829.3 L378 828.7 L376 828 L374 827.2 L372 826.5 L370 825.7 L368 824.9 L366 824.1 L364 823.3 L362 822.6Z" fill="#bdbf3a"/>
<path d="M221.7 764l4.4 4.4m0 -4.4l-4.4 4.4M248.9 759.4l4.4 4.4m0 -4.4l-4.4 4.4M248.9 763.8l4.4 4.4m0 -4.4l-4.4 4.4M279.1 761.4l4.4 4.4m0 -4.4l-4.4 4.4M289 752.8l4.4 4.4m0 -4.4l-4.4 4.4M289 757.8l4.4 4.4m0 -4.4l-4.4 4.4M297.5 754.8l4.4 4.4m0 -4.4l-4.4 4.4M297.5 759.8l4.4 4.4m0 -4.4l-4.4 4.4M315 790.3l4.4 4.4m0 -4.4l-4.4 4.4M315 797.5l4.4 4.4m0 -4.4l-4.4 4.4M320.9 803.4l4.4 4.4m0 -4.4l-4.4 4.4M320.9 807.3l4.4 4.4m0 -4.4l-4.4 4.4M328.8 792.2l4.4 4.4m0 -4.4l-4.4 4.4M328.8 798.1l4.4 4.4m0 -4.4l-4.4 4.4M309.8 821l4.4 4.4m0 -4.4l-4.4 4.4M336 807.9l4.4 4.4m0 -4.4l-4.4 4.4M336 815.8l4.4 4.4m0 -4.4l-4.4 4.4M342.5 796.1l4.4 4.4m0 -4.4l-4.4 4.4M342.5 800.8l4.4 4.4m0 -4.4l-4.4 4.4M344.5 809.3l4.4 4.4m0 -4.4l-4.4 4.4M344.5 815.8l4.4 4.4m0 -4.4l-4.4 4.4M353.7 798.8l4.4 4.4m0 -4.4l-4.4 4.4M355.6 824.3l4.4 4.4m0 -4.4l-4.4 4.4M357.6 800.4l4.4 4.4m0 -4.4l-4.4 4.4M357.6 817l4.4 4.4m0 -4.4l-4.4 4.4M361.7 802.3l4.4 4.4m0 -4.4l-4.4 4.4M361.7 818.5l4.4 4.4m0 -4.4l-4.4 4.4M363.7 802.5l4.4 4.4m0 -4.4l-4.4 4.4M363.7 819.4l4.4 4.4m0 -4.4l-4.4 4.4M365.5 802.8l4.4 4.4m0 -4.4l-4.4 4.4M365.5 820l4.4 4.4m0 -4.4l-4.4 4.4M372.4 805.4l4.4 4.4m0 -4.4l-4.4 4.4M372.4 823l4.4 4.4m0 -4.4l-4.4 4.4M375.5 806l4.4 4.4m0 -4.4l-4.4 4.4M375.5 823.6l4.4 4.4m0 -4.4l-4.4 4.4M376.9 806.5l4.4 4.4m0 -4.4l-4.4 4.4M376.9 824.5l4.4 4.4m0 -4.4l-4.4 4.4M378.4 807.7l4.4 4.4m0 -4.4l-4.4 4.4M378.4 824.2l4.4 4.4m0 -4.4l-4.4 4.4M381.1 809l4.4 4.4m0 -4.4l-4.4 4.4M381.1 825.9l4.4 4.4m0 -4.4l-4.4 4.4M382.4 809.2l4.4 4.4m0 -4.4l-4.4 4.4M382.4 826l4.4 4.4m0 -4.4l-4.4 4.4M386.2 810.2l4.4 4.4m0 -4.4l-4.4 4.4M386.2 826.5l4.4 4.4m0 -4.4l-4.4 4.4M387.3 811l4.4 4.4m0 -4.4l-4.4 4.4M387.3 826.9l4.4 4.4m0 -4.4l-4.4 4.4M388.5 811.1l4.4 4.4m0 -4.4l-4.4 4.4M388.5 827.4l4.4 4.4m0 -4.4l-4.4 4.4M390.7 811.8l4.4 4.4m0 -4.4l-4.4 4.4M390.7 828.3l4.4 4.4m0 -4.4l-4.4 4.4M392.9 813.1l4.4 4.4m0 -4.4l-4.4 4.4M392.9 829.4l4.4 4.4m0 -4.4l-4.4 4.4M395.9 814l4.4 4.4m0 -4.4l-4.4 4.4M395.9 830.1l4.4 4.4m0 -4.4l-4.4 4.4M396.9 814.3l4.4 4.4m0 -4.4l-4.4 4.4M396.9 830.4l4.4 4.4m0 -4.4l-4.4 4.4M398.7 814.8l4.4 4.4m0 -4.4l-4.4 4.4M398.7 830.6l4.4 4.4m0 -4.4l-4.4 4.4M400.6 815.9l4.4 4.4m0 -4.4l-4.4 4.4M400.6 831.9l4.4 4.4m0 -4.4l-4.4 4.4M402.3 816.2l4.4 4.4m0 -4.4l-4.4 4.4M402.3 832.1l4.4 4.4m0 -4.4l-4.4 4.4M403.2 816l4.4 4.4m0 -4.4l-4.4 4.4M403.2 831.9l4.4 4.4m0 -4.4l-4.4 4.4M404 816.2l4.4 4.4m0 -4.4l-4.4 4.4M404 832l4.4 4.4m0 -4.4l-4.4 4.4M405.6 817.1l4.4 4.4m0 -4.4l-4.4 4.4M405.6 832.8l4.4 4.4m0 -4.4l-4.4 4.4M408.7 818.1l4.4 4.4m0 -4.4l-4.4 4.4M408.7 833.8l4.4 4.4m0 -4.4l-4.4 4.4M409.5 818.5l4.4 4.4m0 -4.4l-4.4 4.4M409.5 834.4l4.4 4.4m0 -4.4l-4.4 4.4M410.2 817.7l4.4 4.4m0 -4.4l-4.4 4.4M410.2 834l4.4 4.4m0 -4.4l-4.4 4.4M412.3 819.3l4.4 4.4m0 -4.4l-4.4 4.4M412.3 834.7l4.4 4.4m0 -4.4l-4.4 4.4M413 819.5l4.4 4.4m0 -4.4l-4.4 4.4M413 834.8l4.4 4.4m0 -4.4l-4.4 4.4M414.4 819l4.4 4.4m0 -4.4l-4.4 4.4M414.4 835.2l4.4 4.4m0 -4.4l-4.4 4.4M415.7 820.1l4.4 4.4m0 -4.4l-4.4 4.4M415.7 835.1l4.4 4.4m0 -4.4l-4.4 4.4M417 819.8l4.4 4.4m0 -4.4l-4.4 4.4M417 835.4l4.4 4.4m0 -4.4l-4.4 4.4M419.5 821.4l4.4 4.4m0 -4.4l-4.4 4.4M419.5 836.2l4.4 4.4m0 -4.4l-4.4 4.4M420.7 820.9l4.4 4.4m0 -4.4l-4.4 4.4M420.7 835.9l4.4 4.4m0 -4.4l-4.4 4.4M422.4 821.4l4.4 4.4m0 -4.4l-4.4 4.4M422.4 836l4.4 4.4m0 -4.4l-4.4 4.4M424.6 822.8l4.4 4.4m0 -4.4l-4.4 4.4M424.6 836.5l4.4 4.4m0 -4.4l-4.4 4.4M426.2 823l4.4 4.4m0 -4.4l-4.4 4.4M426.2 837l4.4 4.4m0 -4.4l-4.4 4.4M427.2 823l4.4 4.4m0 -4.4l-4.4 4.4M427.2 837.5l4.4 4.4m0 -4.4l-4.4 4.4M428.2 823.2l4.4 4.4m0 -4.4l-4.4 4.4M428.2 837.5l4.4 4.4m0 -4.4l-4.4 4.4M430.2 823.7l4.4 4.4m0 -4.4l-4.4 4.4M430.2 837.7l4.4 4.4m0 -4.4l-4.4 4.4M431.2 824l4.4 4.4m0 -4.4l-4.4 4.4M431.2 837.7l4.4 4.4m0 -4.4l-4.4 4.4M432.1 825l4.4 4.4m0 -4.4l-4.4 4.4M432.1 838.4l4.4 4.4m0 -4.4l-4.4 4.4M433.9 824.7l4.4 4.4m0 -4.4l-4.4 4.4M433.9 838.9l4.4 4.4m0 -4.4l-4.4 4.4M434.8 824.8l4.4 4.4m0 -4.4l-4.4 4.4M434.8 838.6l4.4 4.4m0 -4.4l-4.4 4.4M435.7 825.7l4.4 4.4m0 -4.4l-4.4 4.4M435.7 839l4.4 4.4m0 -4.4l-4.4 4.4M436.5 825.1l4.4 4.4m0 -4.4l-4.4 4.4M436.5 839.5l4.4 4.4m0 -4.4l-4.4 4.4M437.4 825.4l4.4 4.4m0 -4.4l-4.4 4.4M437.4 839l4.4 4.4m0 -4.4l-4.4 4.4M439 826.4l4.4 4.4m0 -4.4l-4.4 4.4M439 839.4l4.4 4.4m0 -4.4l-4.4 4.4M439.8 826.2l4.4 4.4m0 -4.4l-4.4 4.4M439.8 839.3l4.4 4.4m0 -4.4l-4.4 4.4M440.6 826.2l4.4 4.4m0 -4.4l-4.4 4.4M440.6 839.9l4.4 4.4m0 -4.4l-4.4 4.4M441.4 826.5l4.4 4.4m0 -4.4l-4.4 4.4M441.4 840.1l4.4 4.4m0 -4.4l-4.4 4.4M442.5 827l4.4 4.4m0 -4.4l-4.4 4.4M442.5 840.1l4.4 4.4m0 -4.4l-4.4 4.4M443.6 827.9l4.4 4.4m0 -4.4l-4.4 4.4M443.6 840.4l4.4 4.4m0 -4.4l-4.4 4.4M444.3 827.7l4.4 4.4m0 -4.4l-4.4 4.4M444.3 840.9l4.4 4.4m0 -4.4l-4.4 4.4M445 827.5l4.4 4.4m0 -4.4l-4.4 4.4M445 840.3l4.4 4.4m0 -4.4l-4.4 4.4M446.4 828.6l4.4 4.4m0 -4.4l-4.4 4.4M446.4 841.3l4.4 4.4m0 -4.4l-4.4 4.4M447.1 828.2l4.4 4.4m0 -4.4l-4.4 4.4M447.1 840.8l4.4 4.4m0 -4.4l-4.4 4.4M447.8 828.8l4.4 4.4m0 -4.4l-4.4 4.4M447.8 841.6l4.4 4.4m0 -4.4l-4.4 4.4M448.5 828.6l4.4 4.4m0 -4.4l-4.4 4.4M448.5 841.9l4.4 4.4m0 -4.4l-4.4 4.4M449.4 829.7l4.4 4.4m0 -4.4l-4.4 4.4M449.4 841.8l4.4 4.4m0 -4.4l-4.4 4.4M450.4 829.6l4.4 4.4m0 -4.4l-4.4 4.4M450.4 841.6l4.4 4.4m0 -4.4l-4.4 4.4M451 829.5l4.4 4.4m0 -4.4l-4.4 4.4M451 842.7l4.4 4.4m0 -4.4l-4.4 4.4M451.7 829.9l4.4 4.4m0 -4.4l-4.4 4.4M451.7 842.6l4.4 4.4m0 -4.4l-4.4 4.4M452.3 830.2l4.4 4.4m0 -4.4l-4.4 4.4M452.3 843l4.4 4.4m0 -4.4l-4.4 4.4M452.9 830.8l4.4 4.4m0 -4.4l-4.4 4.4M452.9 842.6l4.4 4.4m0 -4.4l-4.4 4.4M454.4 831l4.4 4.4m0 -4.4l-4.4 4.4M454.4 843.5l4.4 4.4m0 -4.4l-4.4 4.4M455.5 831.3l4.4 4.4m0 -4.4l-4.4 4.4M455.5 843.4l4.4 4.4m0 -4.4l-4.4 4.4M456.9 832.4l4.4 4.4m0 -4.4l-4.4 4.4M456.9 844.5l4.4 4.4m0 -4.4l-4.4 4.4M457.7 832.8l4.4 4.4m0 -4.4l-4.4 4.4M457.7 844.2l4.4 4.4m0 -4.4l-4.4 4.4M458.6 833.4l4.4 4.4m0 -4.4l-4.4 4.4M458.6 844.3l4.4 4.4m0 -4.4l-4.4 4.4M459.6 832.9l4.4 4.4m0 -4.4l-4.4 4.4M459.6 844.6l4.4 4.4m0 -4.4l-4.4 4.4M461.2 833.9l4.4 4.4m0 -4.4l-4.4 4.4M461.2 844.7l4.4 4.4m0 -4.4l-4.4 4.4M462.7 834.2l4.4 4.4m0 -4.4l-4.4 4.4M462.7 845.4l4.4 4.4m0 -4.4l-4.4 4.4M463.6 834.9l4.4 4.4m0 -4.4l-4.4 4.4M463.6 845.4l4.4 4.4m0 -4.4l-4.4 4.4M464.6 835.1l4.4 4.4m0 -4.4l-4.4 4.4M464.6 846.4l4.4 4.4m0 -4.4l-4.4 4.4M465.5 836l4.4 4.4m0 -4.4l-4.4 4.4M465.5 846.3l4.4 4.4m0 -4.4l-4.4 4.4M466.5 836.1l4.4 4.4m0 -4.4l-4.4 4.4M466.5 846.5l4.4 4.4m0 -4.4l-4.4 4.4M467.6 836l4.4 4.4m0 -4.4l-4.4 4.4M467.6 846.2l4.4 4.4m0 -4.4l-4.4 4.4M468.2 836l4.4 4.4m0 -4.4l-4.4 4.4M468.2 847.2l4.4 4.4m0 -4.4l-4.4 4.4M469.1 837l4.4 4.4m0 -4.4l-4.4 4.4M469.1 847.3l4.4 4.4m0 -4.4l-4.4 4.4M470.2 836.6l4.4 4.4m0 -4.4l-4.4 4.4M470.2 847.1l4.4 4.4m0 -4.4l-4.4 4.4M471 837.3l4.4 4.4m0 -4.4l-4.4 4.4M471 847.3l4.4 4.4m0 -4.4l-4.4 4.4M471.6 837.3l4.4 4.4m0 -4.4l-4.4 4.4M471.6 847.7l4.4 4.4m0 -4.4l-4.4 4.4M472.4 837.2l4.4 4.4m0 -4.4l-4.4 4.4M472.4 847.3l4.4 4.4m0 -4.4l-4.4 4.4M473.2 838.1l4.4 4.4m0 -4.4l-4.4 4.4M473.2 847.8l4.4 4.4m0 -4.4l-4.4 4.4M474.4 838.4l4.4 4.4m0 -4.4l-4.4 4.4M474.4 847.8l4.4 4.4m0 -4.4l-4.4 4.4M475.2 838.7l4.4 4.4m0 -4.4l-4.4 4.4M475.2 848.1l4.4 4.4m0 -4.4l-4.4 4.4M475.9 838.4l4.4 4.4m0 -4.4l-4.4 4.4M475.9 847.9l4.4 4.4m0 -4.4l-4.4 4.4M476.7 839.2l4.4 4.4m0 -4.4l-4.4 4.4M476.7 848.2l4.4 4.4m0 -4.4l-4.4 4.4M478.1 839.1l4.4 4.4m0 -4.4l-4.4 4.4M478.1 848.4l4.4 4.4m0 -4.4l-4.4 4.4M478.8 839.8l4.4 4.4m0 -4.4l-4.4 4.4M478.8 848.3l4.4 4.4m0 -4.4l-4.4 4.4M479.9 840l4.4 4.4m0 -4.4l-4.4 4.4M479.9 848.3l4.4 4.4m0 -4.4l-4.4 4.4M480.6 840.2l4.4 4.4m0 -4.4l-4.4 4.4M480.6 848.7l4.4 4.4m0 -4.4l-4.4 4.4M481.4 840l4.4 4.4m0 -4.4l-4.4 4.4M481.4 848.9l4.4 4.4m0 -4.4l-4.4 4.4M482.2 841.2l4.4 4.4m0 -4.4l-4.4 4.4M482.2 849.3l4.4 4.4m0 -4.4l-4.4 4.4M483.5 841.5l4.4 4.4m0 -4.4l-4.4 4.4M483.5 849l4.4 4.4m0 -4.4l-4.4 4.4M484.2 841.7l4.4 4.4m0 -4.4l-4.4 4.4M484.2 849.4l4.4 4.4m0 -4.4l-4.4 4.4M484.8 841.6l4.4 4.4m0 -4.4l-4.4 4.4M484.8 849.7l4.4 4.4m0 -4.4l-4.4 4.4M485.7 841.6l4.4 4.4m0 -4.4l-4.4 4.4M485.7 849.8l4.4 4.4m0 -4.4l-4.4 4.4M486.3 841.8l4.4 4.4m0 -4.4l-4.4 4.4M486.3 849.8l4.4 4.4m0 -4.4l-4.4 4.4M487.1 842.5l4.4 4.4m0 -4.4l-4.4 4.4M487.1 849.6l4.4 4.4m0 -4.4l-4.4 4.4M487.8 843l4.4 4.4m0 -4.4l-4.4 4.4M487.8 850l4.4 4.4m0 -4.4l-4.4 4.4M488.7 843.1l4.4 4.4m0 -4.4l-4.4 4.4M488.7 850.6l4.4 4.4m0 -4.4l-4.4 4.4M489.4 843l4.4 4.4m0 -4.4l-4.4 4.4M489.4 849.8l4.4 4.4m0 -4.4l-4.4 4.4M490.1 843.2l4.4 4.4m0 -4.4l-4.4 4.4M490.1 850.6l4.4 4.4m0 -4.4l-4.4 4.4M490.9 843.3l4.4 4.4m0 -4.4l-4.4 4.4M490.9 850.3l4.4 4.4m0 -4.4l-4.4 4.4M491.6 844.2l4.4 4.4m0 -4.4l-4.4 4.4M491.6 850.9l4.4 4.4m0 -4.4l-4.4 4.4M492.3 843.9l4.4 4.4m0 -4.4l-4.4 4.4M492.3 851.3l4.4 4.4m0 -4.4l-4.4 4.4M493.2 844l4.4 4.4m0 -4.4l-4.4 4.4M493.2 851.2l4.4 4.4m0 -4.4l-4.4 4.4M493.9 844.1l4.4 4.4m0 -4.4l-4.4 4.4M493.9 851.1l4.4 4.4m0 -4.4l-4.4 4.4M494.6 844.9l4.4 4.4m0 -4.4l-4.4 4.4M494.6 851.8l4.4 4.4m0 -4.4l-4.4 4.4M495.3 845.1l4.4 4.4m0 -4.4l-4.4 4.4M495.3 851.4l4.4 4.4m0 -4.4l-4.4 4.4M495.9 845l4.4 4.4m0 -4.4l-4.4 4.4M495.9 851.4l4.4 4.4m0 -4.4l-4.4 4.4M497.1 844.9l4.4 4.4m0 -4.4l-4.4 4.4M497.1 851.9l4.4 4.4m0 -4.4l-4.4 4.4M497.7 845.7l4.4 4.4m0 -4.4l-4.4 4.4M497.7 852.3l4.4 4.4m0 -4.4l-4.4 4.4M498.5 845.8l4.4 4.4m0 -4.4l-4.4 4.4M498.5 852.6l4.4 4.4m0 -4.4l-4.4 4.4M499.5 845.5l4.4 4.4m0 -4.4l-4.4 4.4M499.5 852l4.4 4.4m0 -4.4l-4.4 4.4M500.2 845.9l4.4 4.4m0 -4.4l-4.4 4.4M500.2 852.2l4.4 4.4m0 -4.4l-4.4 4.4M500.8 845.8l4.4 4.4m0 -4.4l-4.4 4.4M500.8 852.5l4.4 4.4m0 -4.4l-4.4 4.4M501.7 846.4l4.4 4.4m0 -4.4l-4.4 4.4M501.7 852.8l4.4 4.4m0 -4.4l-4.4 4.4M502.4 846.2l4.4 4.4m0 -4.4l-4.4 4.4M502.4 853.3l4.4 4.4m0 -4.4l-4.4 4.4M503.4 847.1l4.4 4.4m0 -4.4l-4.4 4.4M503.4 853.1l4.4 4.4m0 -4.4l-4.4 4.4M504.1 846.4l4.4 4.4m0 -4.4l-4.4 4.4M504.1 852.8l4.4 4.4m0 -4.4l-4.4 4.4M505.1 847.4l4.4 4.4m0 -4.4l-4.4 4.4M505.1 853l4.4 4.4m0 -4.4l-4.4 4.4M506 847.4l4.4 4.4m0 -4.4l-4.4 4.4M506 853.7l4.4 4.4m0 -4.4l-4.4 4.4M506.8 847.2l4.4 4.4m0 -4.4l-4.4 4.4M506.8 854.1l4.4 4.4m0 -4.4l-4.4 4.4M507.5 847.1l4.4 4.4m0 -4.4l-4.4 4.4M507.5 853.6l4.4 4.4m0 -4.4l-4.4 4.4M508.4 847.7l4.4 4.4m0 -4.4l-4.4 4.4M508.4 853.6l4.4 4.4m0 -4.4l-4.4 4.4M509.2 848.3l4.4 4.4m0 -4.4l-4.4 4.4M509.2 854l4.4 4.4m0 -4.4l-4.4 4.4M510 847.9l4.4 4.4m0 -4.4l-4.4 4.4M510 854l4.4 4.4m0 -4.4l-4.4 4.4M510.6 848.5l4.4 4.4m0 -4.4l-4.4 4.4M510.6 854.5l4.4 4.4m0 -4.4l-4.4 4.4M511.3 848.7l4.4 4.4m0 -4.4l-4.4 4.4M511.3 854.8l4.4 4.4m0 -4.4l-4.4 4.4M512.1 849.1l4.4 4.4m0 -4.4l-4.4 4.4M512.1 855.3l4.4 4.4m0 -4.4l-4.4 4.4M512.7 849.2l4.4 4.4m0 -4.4l-4.4 4.4M512.7 854.7l4.4 4.4m0 -4.4l-4.4 4.4M513.4 849.2l4.4 4.4m0 -4.4l-4.4 4.4M513.4 854.8l4.4 4.4m0 -4.4l-4.4 4.4M514.1 848.9l4.4 4.4m0 -4.4l-4.4 4.4M514.1 855.2l4.4 4.4m0 -4.4l-4.4 4.4M514.8 849.8l4.4 4.4m0 -4.4l-4.4 4.4M514.8 855.1l4.4 4.4m0 -4.4l-4.4 4.4M515.5 849.6l4.4 4.4m0 -4.4l-4.4 4.4M515.5 855.4l4.4 4.4m0 -4.4l-4.4 4.4M516.2 850.2l4.4 4.4m0 -4.4l-4.4 4.4M516.2 855.7l4.4 4.4m0 -4.4l-4.4 4.4M516.9 850.3l4.4 4.4m0 -4.4l-4.4 4.4M516.9 856.1l4.4 4.4m0 -4.4l-4.4 4.4M517.5 850.3l4.4 4.4m0 -4.4l-4.4 4.4M517.5 856.2l4.4 4.4m0 -4.4l-4.4 4.4M518.3 851.1l4.4 4.4m0 -4.4l-4.4 4.4M518.3 855.7l4.4 4.4m0 -4.4l-4.4 4.4M519.1 851.4l4.4 4.4m0 -4.4l-4.4 4.4M519.1 856.4l4.4 4.4m0 -4.4l-4.4 4.4M519.9 850.9l4.4 4.4m0 -4.4l-4.4 4.4M519.9 856.3l4.4 4.4m0 -4.4l-4.4 4.4M520.6 851.6l4.4 4.4m0 -4.4l-4.4 4.4M520.6 856.9l4.4 4.4m0 -4.4l-4.4 4.4M521.3 851.6l4.4 4.4m0 -4.4l-4.4 4.4M521.3 856.6l4.4 4.4m0 -4.4l-4.4 4.4M522 852.4l4.4 4.4m0 -4.4l-4.4 4.4M522 857l4.4 4.4m0 -4.4l-4.4 4.4M522.8 852.7l4.4 4.4m0 -4.4l-4.4 4.4M522.8 856.8l4.4 4.4m0 -4.4l-4.4 4.4M523.5 852.6l4.4 4.4m0 -4.4l-4.4 4.4M523.5 856.6l4.4 4.4m0 -4.4l-4.4 4.4M524.3 853l4.4 4.4m0 -4.4l-4.4 4.4M524.3 857.4l4.4 4.4m0 -4.4l-4.4 4.4M525 853.2l4.4 4.4m0 -4.4l-4.4 4.4M525 857.4l4.4 4.4m0 -4.4l-4.4 4.4M525.6 852.9l4.4 4.4m0 -4.4l-4.4 4.4M525.6 857.6l4.4 4.4m0 -4.4l-4.4 4.4M526.3 854l4.4 4.4m0 -4.4l-4.4 4.4M526.3 857.8l4.4 4.4m0 -4.4l-4.4 4.4M527.2 853.8l4.4 4.4m0 -4.4l-4.4 4.4M527.2 857.8l4.4 4.4m0 -4.4l-4.4 4.4M527.9 853.8l4.4 4.4m0 -4.4l-4.4 4.4M527.9 858l4.4 4.4m0 -4.4l-4.4 4.4M528.5 854.6l4.4 4.4m0 -4.4l-4.4 4.4M528.5 857.6l4.4 4.4m0 -4.4l-4.4 4.4M529.4 854.2l4.4 4.4m0 -4.4l-4.4 4.4M529.4 857.8l4.4 4.4m0 -4.4l-4.4 4.4M530 854.9l4.4 4.4m0 -4.4l-4.4 4.4M530 858.2l4.4 4.4m0 -4.4l-4.4 4.4M530.6 855.1l4.4 4.4m0 -4.4l-4.4 4.4M530.6 857.6l4.4 4.4m0 -4.4l-4.4 4.4M531.3 855.7l4.4 4.4m0 -4.4l-4.4 4.4M531.3 857.7l4.4 4.4m0 -4.4l-4.4 4.4M532 856l4.4 4.4m0 -4.4l-4.4 4.4M532 858l4.4 4.4m0 -4.4l-4.4 4.4M532.7 855.8l4.4 4.4m0 -4.4l-4.4 4.4M532.7 858.7l4.4 4.4m0 -4.4l-4.4 4.4M533.5 855.9l4.4 4.4m0 -4.4l-4.4 4.4M533.5 858.2l4.4 4.4m0 -4.4l-4.4 4.4M534.2 856.5l4.4 4.4m0 -4.4l-4.4 4.4M534.2 858.8l4.4 4.4m0 -4.4l-4.4 4.4M534.9 857.1l4.4 4.4m0 -4.4l-4.4 4.4M534.9 858.9l4.4 4.4m0 -4.4l-4.4 4.4M535.5 857.5l4.4 4.4m0 -4.4l-4.4 4.4M535.5 858.8l4.4 4.4m0 -4.4l-4.4 4.4M536.3 857.8l4.4 4.4m0 -4.4l-4.4 4.4M536.3 858.5l4.4 4.4m0 -4.4l-4.4 4.4M537 857.3l4.4 4.4m0 -4.4l-4.4 4.4M537 859.1l4.4 4.4m0 -4.4l-4.4 4.4M537.7 857.6l4.4 4.4m0 -4.4l-4.4 4.4M537.7 859.4l4.4 4.4m0 -4.4l-4.4 4.4M538.4 858.2l4.4 4.4m0 -4.4l-4.4 4.4M538.4 859.3l4.4 4.4m0 -4.4l-4.4 4.4M539 858.6l4.4 4.4m0 -4.4l-4.4 4.4M539 859.5l4.4 4.4m0 -4.4l-4.4 4.4M539.7 858.3l4.4 4.4m0 -4.4l-4.4 4.4M539.7 859.4l4.4 4.4m0 -4.4l-4.4 4.4M540.5 859l4.4 4.4m0 -4.4l-4.4 4.4M540.5 860l4.4 4.4m0 -4.4l-4.4 4.4M541.2 858.6l4.4 4.4m0 -4.4l-4.4 4.4M541.2 860.1l4.4 4.4m0 -4.4l-4.4 4.4M541.8 859.5l4.4 4.4m0 -4.4l-4.4 4.4M541.8 859.9l4.4 4.4m0 -4.4l-4.4 4.4M542.4 859.3l4.4 4.4m0 -4.4l-4.4 4.4M542.4 859.6l4.4 4.4m0 -4.4l-4.4 4.4M543.1 859.5l4.4 4.4m0 -4.4l-4.4 4.4M543.1 860.1l4.4 4.4m0 -4.4l-4.4 4.4M543.7 859.7l4.4 4.4m0 -4.4l-4.4 4.4M543.7 859.7l4.4 4.4m0 -4.4l-4.4 4.4M544.4 860.3l4.4 4.4m0 -4.4l-4.4 4.4M544.4 860.3l4.4 4.4m0 -4.4l-4.4 4.4M545.1 859.9l4.4 4.4m0 -4.4l-4.4 4.4M545.1 860.8l4.4 4.4m0 -4.4l-4.4 4.4M545.7 860.3l4.4 4.4m0 -4.4l-4.4 4.4M545.7 860.6l4.4 4.4m0 -4.4l-4.4 4.4M546.3 860.6l4.4 4.4m0 -4.4l-4.4 4.4M546.3 860.3l4.4 4.4m0 -4.4l-4.4 4.4M547 860.6l4.4 4.4m0 -4.4l-4.4 4.4M547 860.7l4.4 4.4m0 -4.4l-4.4 4.4M547.6 861.2l4.4 4.4m0 -4.4l-4.4 4.4M547.6 861.4l4.4 4.4m0 -4.4l-4.4 4.4M548.2 860.7l4.4 4.4m0 -4.4l-4.4 4.4M548.2 861.1l4.4 4.4m0 -4.4l-4.4 4.4M548.9 860.8l4.4 4.4m0 -4.4l-4.4 4.4M548.9 861.2l4.4 4.4m0 -4.4l-4.4 4.4M549.6 861.7l4.4 4.4m0 -4.4l-4.4 4.4M549.6 861.8l4.4 4.4m0 -4.4l-4.4 4.4M550.2 861.5l4.4 4.4m0 -4.4l-4.4 4.4M550.2 861.4l4.4 4.4m0 -4.4l-4.4 4.4M551 861.5l4.4 4.4m0 -4.4l-4.4 4.4M551 861.9l4.4 4.4m0 -4.4l-4.4 4.4M551.6 862.4l4.4 4.4m0 -4.4l-4.4 4.4M551.6 861.6l4.4 4.4m0 -4.4l-4.4 4.4M552.3 862.5l4.4 4.4m0 -4.4l-4.4 4.4M552.3 861.7l4.4 4.4m0 -4.4l-4.4 4.4M552.9 862.1l4.4 4.4m0 -4.4l-4.4 4.4M552.9 862.1l4.4 4.4m0 -4.4l-4.4 4.4M553.7 862.8l4.4 4.4m0 -4.4l-4.4 4.4M553.7 862.4l4.4 4.4m0 -4.4l-4.4 4.4M554.3 862.7l4.4 4.4m0 -4.4l-4.4 4.4M554.3 862.9l4.4 4.4m0 -4.4l-4.4 4.4M555.1 862.7l4.4 4.4m0 -4.4l-4.4 4.4M555.1 863.3l4.4 4.4m0 -4.4l-4.4 4.4M555.8 862.9l4.4 4.4m0 -4.4l-4.4 4.4M555.8 863.3l4.4 4.4m0 -4.4l-4.4 4.4M556.4 863.2l4.4 4.4m0 -4.4l-4.4 4.4M556.4 863.2l4.4 4.4m0 -4.4l-4.4 4.4M557.1 863.7l4.4 4.4m0 -4.4l-4.4 4.4M557.1 863.6l4.4 4.4m0 -4.4l-4.4 4.4M557.7 863.8l4.4 4.4m0 -4.4l-4.4 4.4M557.7 863.8l4.4 4.4m0 -4.4l-4.4 4.4M558.3 864.1l4.4 4.4m0 -4.4l-4.4 4.4M558.3 863.8l4.4 4.4m0 -4.4l-4.4 4.4M559.1 864.1l4.4 4.4m0 -4.4l-4.4 4.4M559.1 864.5l4.4 4.4m0 -4.4l-4.4 4.4M559.8 864.8l4.4 4.4m0 -4.4l-4.4 4.4M559.8 864.7l4.4 4.4m0 -4.4l-4.4 4.4M560.5 865.3l4.4 4.4m0 -4.4l-4.4 4.4M560.5 865.1l4.4 4.4m0 -4.4l-4.4 4.4M561.1 865.6l4.4 4.4m0 -4.4l-4.4 4.4M561.1 864.9l4.4 4.4m0 -4.4l-4.4 4.4M561.8 865.7l4.4 4.4m0 -4.4l-4.4 4.4M561.8 865.8l4.4 4.4m0 -4.4l-4.4 4.4M562.4 866.1l4.4 4.4m0 -4.4l-4.4 4.4M562.4 865.5l4.4 4.4m0 -4.4l-4.4 4.4M563.1 865.8l4.4 4.4m0 -4.4l-4.4 4.4M563.1 866.4l4.4 4.4m0 -4.4l-4.4 4.4M563.7 865.9l4.4 4.4m0 -4.4l-4.4 4.4M563.7 866.7l4.4 4.4m0 -4.4l-4.4 4.4M564.3 866.8l4.4 4.4m0 -4.4l-4.4 4.4M564.3 866.1l4.4 4.4m0 -4.4l-4.4 4.4M565 866.4l4.4 4.4m0 -4.4l-4.4 4.4M565 866.9l4.4 4.4m0 -4.4l-4.4 4.4M565.7 866.7l4.4 4.4m0 -4.4l-4.4 4.4M565.7 866.6l4.4 4.4m0 -4.4l-4.4 4.4M566.3 867.5l4.4 4.4m0 -4.4l-4.4 4.4M566.3 867.1l4.4 4.4m0 -4.4l-4.4 4.4M566.9 867.7l4.4 4.4m0 -4.4l-4.4 4.4M566.9 867.1l4.4 4.4m0 -4.4l-4.4 4.4M567.6 867.6l4.4 4.4m0 -4.4l-4.4 4.4M567.6 867.9l4.4 4.4m0 -4.4l-4.4 4.4M568.2 867.4l4.4 4.4m0 -4.4l-4.4 4.4M568.2 867.6l4.4 4.4m0 -4.4l-4.4 4.4M568.8 868.3l4.4 4.4m0 -4.4l-4.4 4.4M568.8 868.5l4.4 4.4m0 -4.4l-4.4 4.4M569.6 868.8l4.4 4.4m0 -4.4l-4.4 4.4M569.6 868l4.4 4.4m0 -4.4l-4.4 4.4M570.2 868.5l4.4 4.4m0 -4.4l-4.4 4.4M570.2 868.8l4.4 4.4m0 -4.4l-4.4 4.4M570.9 868.7l4.4 4.4m0 -4.4l-4.4 4.4M570.9 868.9l4.4 4.4m0 -4.4l-4.4 4.4M571.5 868.6l4.4 4.4m0 -4.4l-4.4 4.4M571.5 868.5l4.4 4.4m0 -4.4l-4.4 4.4M572.1 868.7l4.4 4.4m0 -4.4l-4.4 4.4M572.1 868.6l4.4 4.4m0 -4.4l-4.4 4.4M572.8 869.3l4.4 4.4m0 -4.4l-4.4 4.4M572.8 869.3l4.4 4.4m0 -4.4l-4.4 4.4M573.4 869.6l4.4 4.4m0 -4.4l-4.4 4.4M573.4 869.1l4.4 4.4m0 -4.4l-4.4 4.4M574.1 869.4l4.4 4.4m0 -4.4l-4.4 4.4M574.1 869.4l4.4 4.4m0 -4.4l-4.4 4.4M574.7 870.2l4.4 4.4m0 -4.4l-4.4 4.4M574.7 870.4l4.4 4.4m0 -4.4l-4.4 4.4M575.4 870.5l4.4 4.4m0 -4.4l-4.4 4.4M575.4 869.7l4.4 4.4m0 -4.4l-4.4 4.4M576.1 869.8l4.4 4.4m0 -4.4l-4.4 4.4M576.1 870.7l4.4 4.4m0 -4.4l-4.4 4.4M576.7 870.4l4.4 4.4m0 -4.4l-4.4 4.4M576.7 870.7l4.4 4.4m0 -4.4l-4.4 4.4M577.4 870.5l4.4 4.4m0 -4.4l-4.4 4.4M577.4 870.6l4.4 4.4m0 -4.4l-4.4 4.4M578 870.9l4.4 4.4m0 -4.4l-4.4 4.4M578 870.8l4.4 4.4m0 -4.4l-4.4 4.4M578.6 871.1l4.4 4.4m0 -4.4l-4.4 4.4M578.6 870.5l4.4 4.4m0 -4.4l-4.4 4.4M579.3 871.4l4.4 4.4m0 -4.4l-4.4 4.4M579.3 871.6l4.4 4.4m0 -4.4l-4.4 4.4M579.9 871.1l4.4 4.4m0 -4.4l-4.4 4.4M579.9 871.4l4.4 4.4m0 -4.4l-4.4 4.4M580.6 871.8l4.4 4.4m0 -4.4l-4.4 4.4M580.6 871.5l4.4 4.4m0 -4.4l-4.4 4.4M581.2 871.5l4.4 4.4m0 -4.4l-4.4 4.4M581.2 871.5l4.4 4.4m0 -4.4l-4.4 4.4M581.8 872l4.4 4.4m0 -4.4l-4.4 4.4M581.8 871.5l4.4 4.4m0 -4.4l-4.4 4.4M582.5 872.6l4.4 4.4m0 -4.4l-4.4 4.4M582.5 872.5l4.4 4.4m0 -4.4l-4.4 4.4M583.2 872.6l4.4 4.4m0 -4.4l-4.4 4.4M583.2 872.7l4.4 4.4m0 -4.4l-4.4 4.4M583.8 872.7l4.4 4.4m0 -4.4l-4.4 4.4M583.8 872.5l4.4 4.4m0 -4.4l-4.4 4.4M584.4 872.8l4.4 4.4m0 -4.4l-4.4 4.4M584.4 872.7l4.4 4.4m0 -4.4l-4.4 4.4M585.1 873.4l4.4 4.4m0 -4.4l-4.4 4.4M585.1 873.2l4.4 4.4m0 -4.4l-4.4 4.4M585.7 872.8l4.4 4.4m0 -4.4l-4.4 4.4M585.7 873.5l4.4 4.4m0 -4.4l-4.4 4.4" fill="none" stroke="#bdbf3a" stroke-width="3.8" stroke-linecap="round"/>
<path d="M362 929.5 L364 927.9 L366 925.9 L368 923.9 L370 921.9 L372 919.9 L374 917.9 L376 915.8 L378 913.8 L380 911.8 L382 909.8 L384 907.8 L386 905.8 L388 903.8 L390 901.8 L392 899.8 L394 897.8 L396 895.9 L398 893.9 L400 892.2 L402 890.6 L404 889 L406 887.4 L408 885.6 L410 883.6 L412 881.6 L414 879.6 L416 877.6 L418 875.8 L420 873.9 L422 872.1 L424 870.1 L426 867.8 L428 865.5 L430 863.2 L432 861 L434 859 L436 857 L438 855.1 L440 854.3 L442 854.7 L444 855.1 L446 856.2 L448 857.3 L450 858.5 L452 858.5 L454 858.5 L456 858.5 L458 858.5 L460 858.5 L462 858.1 L464 857.7 L466 857.3 L468 857 L470 856.6 L472 856.4 L474 856.2 L476 856 L478 855.9 L480 855.7 L482 855.5 L484 855.4 L486 855.3 L488 855.1 L490 855 L492 855.1 L494 855.2 L496 855.3 L498 855.4 L500 855.5 L502 855.7 L504 855.8 L506 856 L508 856.2 L510 856.4 L512 856.7 L514 857.1 L516 857.4 L518 857.7 L520 858.1 L522 858.6 L524 859 L526 859.5 L528 860 L530 860.5 L532 861 L534 861.4 L536 861.9 L538 862.4 L540 862.9 L542 863.2 L544 863.6 L546 864 L548 864.3 L550 864.7 L552 865.3 L554 865.8 L556 866.4 L558 867 L560 867.6 L562 868.2 L564 868.9 L566 869.5 L568 870.1 L570 870.8 L572 871.3 L574 871.8 L576 872.3 L578 872.9 L580 873.4 L582 873.9 L584 874.4 L586 874.9 L588 875.5 L589 875.7 L589 891.9 L588 891.7 L586 891.2 L584 890.7 L582 890.3 L580 889.8 L578 889.4 L576 888.9 L574 888.4 L572 888 L570 887.5 L568 887 L566 886.5 L564 886 L562 885.4 L560 884.9 L558 884.5 L556 884.1 L554 883.7 L552 883.2 L550 882.8 L548 882.6 L546 882.3 L544 882.1 L542 881.9 L540 881.6 L538 881.2 L536 880.7 L534 880.2 L532 879.8 L530 879.3 L528 878.8 L526 878.2 L524 877.6 L522 877.1 L520 876.5 L518 876.3 L516 876 L514 875.8 L512 875.6 L510 875.3 L508 875.3 L506 875.4 L504 875.4 L502 875.4 L500 875.4 L498 875.4 L496 875.4 L494 875.4 L492 875.3 L490 875.3 L488 875.2 L486 875.1 L484 875 L482 874.9 L480 874.8 L478 874.5 L476 874.1 L474 873.7 L472 873.4 L470 873 L468 872.7 L466 872.3 L464 871.9 L462 871.6 L460 871.2 L458 871.3 L456 871.4 L454 871.5 L452 871.5 L450 871.6 L448 871.3 L446 870.9 L444 870.6 L442 870.3 L440 869.9 L438 871.8 L436 873.7 L434 875.6 L432 877.5 L430 879 L428 880.3 L426 881.6 L424 882.8 L422 884.7 L420 886.7 L418 888.7 L416 890.7 L414 892.5 L412 894.1 L410 895.7 L408 897.3 L406 899 L404 901 L402 903 L400 905 L398 907 L396 909 L394 911 L392 913 L390 915 L388 917 L386 919 L384 921 L382 923 L380 925 L378 927 L376 929 L374 931 L372 933 L370 935 L368 937 L366 939 L364 941 L362 943Z" fill="#4453a6"/>
<path d="M223.5 1000h0M223.5 1004h0M251 990h0M251 993h0M281.1 977h0M281.1 982h0M291.5 975h0M291.5 977h0M299.4 975.6h0M299.4 978.2h0M312 966.2h0M312 968.3h0M317.3 963h0M317.3 967.7h0M323 964.6h0M323 967.7h0M331.4 961.5h0M331.4 965h0M338.7 951.5h0M338.7 954.6h0M343.5 950h0M343.5 953.5h0M347.1 948h0M347.1 953.5h0M356 943.6h0M356 947.3h0M359.8 933.4h0M359.8 942.9h0M363.9 930.1h0M363.9 939.1h0M365.9 928.3h0M365.9 936.7h0M367.7 926.3h0M367.7 934.9h0M374.6 919.5h0M374.6 928.4h0M377.7 916.3h0M377.7 925.6h0M379.1 914.6h0M379.1 923.8h0M380.6 912.9h0M380.6 922.5h0M383.3 910.6h0M383.3 919.5h0M384.6 909h0M384.6 917.9h0M388.4 905.5h0M388.4 914.7h0M389.5 904.4h0M389.5 913.3h0M390.7 903.1h0M390.7 912.3h0M392.9 901.2h0M392.9 909.9h0M395.1 898.9h0M395.1 907.6h0M398.1 896.1h0M398.1 905.2h0M399.1 895.1h0M399.1 903.6h0M400.9 893.4h0M400.9 902h0M402.8 891.8h0M402.8 900.4h0M404.5 890.6h0M404.5 898.7h0M405.4 889.8h0M405.4 897.2h0M406.2 889.3h0M406.2 896.7h0M407.8 888.1h0M407.8 895.2h0M410.9 885h0M410.9 892.7h0M411.7 884.1h0M411.7 892.6h0M412.4 883.3h0M412.4 891.4h0M414.5 880.8h0M414.5 889.6h0M415.2 880.2h0M415.2 889.4h0M416.6 878.9h0M416.6 888h0M417.9 877.9h0M417.9 887h0M419.2 877h0M419.2 885.5h0M421.7 874.4h0M421.7 882.9h0M422.9 873.2h0M422.9 881.9h0M424.6 871.6h0M424.6 880.3h0M426.8 868.8h0M426.8 878.8h0M428.4 867h0M428.4 878.3h0M429.4 865.7h0M429.4 877.6h0M430.4 864.5h0M430.4 876.4h0M432.4 862.5h0M432.4 874.7h0M433.4 861.8h0M433.4 874.5h0M434.3 861h0M434.3 872.9h0M436.1 858.7h0M436.1 871.2h0M437 858h0M437 870.7h0M437.9 857.5h0M437.9 870h0M438.7 856.4h0M438.7 868.7h0M439.6 856.3h0M439.6 868.2h0M441.2 856.8h0M441.2 867.8h0M442 856.8h0M442 868.4h0M442.8 856.9h0M442.8 868.3h0M443.6 856.8h0M443.6 868.8h0M444.7 857.5h0M444.7 868.9h0M445.8 858.1h0M445.8 868.7h0M446.5 858.5h0M446.5 869.1h0M447.2 859h0M447.2 869.1h0M448.6 859.9h0M448.6 869.2h0M449.3 860.4h0M449.3 869h0M450 860.6h0M450 869.7h0M450.7 860.3h0M450.7 869.2h0M451.6 860.7h0M451.6 869.3h0M452.6 860.4h0M452.6 869.6h0M453.2 860.6h0M453.2 869.3h0M453.9 860.6h0M453.9 869.2h0M454.5 860.7h0M454.5 869.6h0M455.1 860.3h0M455.1 868.9h0M456.6 860.7h0M456.6 868.9h0M457.7 860.2h0M457.7 869.5h0M459.1 860.4h0M459.1 869.2h0M459.9 860.6h0M459.9 869.4h0M460.8 860.4h0M460.8 869.6h0M461.8 859.9h0M461.8 869.3h0M463.4 859.9h0M463.4 869.6h0M464.9 859.5h0M464.9 870h0M465.8 859.2h0M465.8 870.3h0M466.8 859.4h0M466.8 870.1h0M467.7 858.8h0M467.7 870.8h0M468.7 859h0M468.7 870.6h0M469.8 858.8h0M469.8 871.1h0M470.4 858.5h0M470.4 871.2h0M471.3 858.7h0M471.3 871.2h0M472.4 858.5h0M472.4 870.9h0M473.2 858.2h0M473.2 871.4h0M473.8 858.4h0M473.8 871.3h0M474.6 858.1h0M474.6 871.8h0M475.4 857.9h0M475.4 871.6h0M476.6 857.8h0M476.6 872.4h0M477.4 858h0M477.4 872.2h0M478.1 858h0M478.1 872.5h0M478.9 858h0M478.9 872.8h0M480.3 857.5h0M480.3 872.6h0M481 857.4h0M481 872.9h0M482.1 857.7h0M482.1 872.6h0M482.8 857.4h0M482.8 873.1h0M483.6 857.4h0M483.6 872.7h0M484.4 857.3h0M484.4 873.2h0M485.7 857.4h0M485.7 872.9h0M486.4 857.5h0M486.4 872.7h0M487 857.5h0M487 873.1h0M487.9 857.3h0M487.9 873.3h0M488.5 857h0M488.5 873.2h0M489.3 857.3h0M489.3 872.8h0M490 856.9h0M490 873.3h0M490.9 857h0M490.9 873.3h0M491.6 857h0M491.6 873.3h0M492.3 856.9h0M492.3 873.2h0M493.1 857.3h0M493.1 873.2h0M493.8 857.4h0M493.8 873.2h0M494.5 857h0M494.5 873h0M495.4 857.5h0M495.4 873.4h0M496.1 857h0M496.1 873.2h0M496.8 857.4h0M496.8 873.2h0M497.5 857.7h0M497.5 873.2h0M498.1 857.6h0M498.1 873.6h0M499.3 857.5h0M499.3 873.1h0M499.9 857.2h0M499.9 873.6h0M500.7 857.7h0M500.7 873h0M501.7 857.4h0M501.7 873.2h0M502.4 857.5h0M502.4 873.1h0M503 857.9h0M503 873.5h0M503.9 857.7h0M503.9 873h0M504.6 857.9h0M504.6 873h0M505.6 857.9h0M505.6 873.4h0M506.3 858.3h0M506.3 873.1h0M507.3 858.2h0M507.3 873.2h0M508.2 858.4h0M508.2 873.1h0M509 858.6h0M509 873.3h0M509.7 858.6h0M509.7 873.1h0M510.6 858.7h0M510.6 873h0M511.4 858.8h0M511.4 873.1h0M512.2 859h0M512.2 873.3h0M512.8 858.9h0M512.8 873.4h0M513.5 859.2h0M513.5 873.7h0M514.3 859.1h0M514.3 874h0M514.9 859.4h0M514.9 873.4h0M515.6 859.3h0M515.6 874.1h0M516.3 859.3h0M516.3 874h0M517 859.5h0M517 873.7h0M517.7 859.4h0M517.7 874.3h0M518.4 859.6h0M518.4 874.1h0M519.1 860.1h0M519.1 874.5h0M519.7 859.8h0M519.7 874.4h0M520.5 860.3h0M520.5 874.2h0M521.3 860.1h0M521.3 875.1h0M522.1 860.4h0M522.1 875.2h0M522.8 860.6h0M522.8 875h0M523.5 861h0M523.5 875.6h0M524.2 860.9h0M524.2 875.8h0M525 861.1h0M525 875.6h0M525.7 861.3h0M525.7 875.9h0M526.5 861.8h0M526.5 876.2h0M527.2 861.7h0M527.2 876.1h0M527.8 862.2h0M527.8 876.7h0M528.5 862.2h0M528.5 876.4h0M529.4 862.3h0M529.4 877.2h0M530.1 862.2h0M530.1 876.9h0M530.7 862.9h0M530.7 877.5h0M531.6 862.9h0M531.6 877.6h0M532.2 862.9h0M532.2 877.3h0M532.8 863.3h0M532.8 878.1h0M533.5 863.1h0M533.5 878h0M534.2 863.4h0M534.2 877.9h0M534.9 863.8h0M534.9 878.2h0M535.7 863.7h0M535.7 878.8h0M536.4 863.9h0M536.4 878.9h0M537.1 864.4h0M537.1 878.8h0M537.7 864.4h0M537.7 878.6h0M538.5 864.4h0M538.5 879.1h0M539.2 864.5h0M539.2 879.1h0M539.9 864.6h0M539.9 879.2h0M540.6 865.2h0M540.6 879.3h0M541.2 864.9h0M541.2 879.8h0M541.9 865.4h0M541.9 880h0M542.7 865.4h0M542.7 879.9h0M543.4 865.8h0M543.4 879.8h0M544 865.8h0M544 880.1h0M544.6 865.9h0M544.6 880.1h0M545.3 866.1h0M545.3 880.5h0M545.9 866.2h0M545.9 880.4h0M546.6 866.1h0M546.6 880.3h0M547.3 866h0M547.3 880.1h0M547.9 866.2h0M547.9 880.6h0M548.5 866.2h0M548.5 880.7h0M549.2 866.5h0M549.2 880.4h0M549.8 866.6h0M549.8 880.5h0M550.4 866.6h0M550.4 880.9h0M551.1 867h0M551.1 880.6h0M551.8 867.4h0M551.8 881h0M552.4 867.1h0M552.4 881.3h0M553.2 867.8h0M553.2 881.6h0M553.8 867.8h0M553.8 881.5h0M554.5 867.7h0M554.5 881.2h0M555.1 868.4h0M555.1 882h0M555.9 868.5h0M555.9 882.1h0M556.5 868.5h0M556.5 882h0M557.3 868.7h0M557.3 882.4h0M558 868.9h0M558 882.2h0M558.6 869h0M558.6 882.7h0M559.3 869.5h0M559.3 882.8h0M559.9 869.8h0M559.9 882.7h0M560.5 869.9h0M560.5 883.1h0M561.3 870.2h0M561.3 883.5h0M562 870h0M562 883.7h0M562.7 870.6h0M562.7 883.3h0M563.3 870.5h0M563.3 883.7h0M564 871.1h0M564 883.8h0M564.6 870.8h0M564.6 884.2h0M565.3 871.1h0M565.3 884.5h0M565.9 871.4h0M565.9 884.7h0M566.5 871.9h0M566.5 884.5h0M567.2 871.9h0M567.2 884.6h0M567.9 872.3h0M567.9 884.6h0M568.5 872.2h0M568.5 885.1h0M569.1 872.5h0M569.1 885.6h0M569.8 872.7h0M569.8 885.2h0M570.4 873.2h0M570.4 885.3h0M571 873.2h0M571 885.5h0M571.8 873h0M571.8 885.9h0M572.4 873.3h0M572.4 885.8h0M573.1 873.4h0M573.1 886.2h0M573.7 873.8h0M573.7 886h0M574.3 874.1h0M574.3 886.3h0M575 873.9h0M575 886.3h0M575.6 874.5h0M575.6 886.7h0M576.3 874.4h0M576.3 886.9h0M576.9 874.4h0M576.9 886.8h0M577.6 875.1h0M577.6 887.1h0M578.3 875.1h0M578.3 887h0M578.9 874.9h0M578.9 887.1h0M579.6 875.4h0M579.6 887.8h0M580.2 875.2h0M580.2 887.9h0M580.8 875.7h0M580.8 887.7h0M581.5 875.7h0M581.5 887.7h0M582.1 875.9h0M582.1 888.2h0M582.8 875.9h0M582.8 888h0M583.4 876.1h0M583.4 888.2h0M584 876.5h0M584 888.6h0M584.7 876.7h0M584.7 889h0M585.4 877.1h0M585.4 888.6h0M586 877.2h0M586 889h0M586.6 876.9h0M586.6 889h0M587.3 877.2h0M587.3 889.1h0M587.9 877.3h0M587.9 889.5h0M588.5 877.3h0M588.5 880.3h0M588.5 883.3h0M588.5 886.3h0M588.5 889.3h0M588.5 890.1h0" fill="none" stroke="#4453a6" stroke-width="8.60" stroke-linecap="round"/>
<path d="M223.5 1137.9h0M250.6 1137.8h0M280.5 1137.7h0M290.5 1137.7h0M298.8 1137.7h0M312.1 1137.7h0M317.6 1137.7h0M322.5 1137.6h0M331.1 1137.6h0M338.3 1137.6h0M344.6 1137.6h0M347.5 1137.6h0M355.2 1137.6h0M357.6 1137.6h0M359.8 1137.6h0M363.9 1137.6h0M365.9 1137.6h0M367.7 1137.6h0M374.6 1137.5h0M377.7 1137.5h0M379.1 1137.5h0M380.6 1137.5h0M383.3 1137.5h0M384.6 1137.5h0M388.4 1137.5h0M389.5 1137.5h0M390.7 1137.5h0M392.9 1137.5h0M395.1 1137.5h0M398.1 1137.5h0M399.1 1137.5h0M400.9 1137.5h0M402.8 1137.5h0M404.5 1137.5h0M405.4 1137.5h0M406.2 1137.5h0M407.8 1137.5h0M410.9 1137.5h0M411.7 1137.5h0M412.4 1137.5h0M414.5 1137.5h0M415.2 1137.5h0M416.6 1137.4h0M417.9 1137.4h0M419.2 1137.4h0M421.7 1137.4h0M422.9 1137.4h0M424.6 1137.4h0M426.8 1137.4h0M428.4 1137.4h0M429.4 1137.4h0M430.4 1137.4h0M432.4 1137.4h0M433.4 1137.4h0M434.3 1137.4h0M436.1 1137.4h0M437 1137.4h0M437.9 1137.4h0M438.7 1137.4h0M439.6 1137.4h0M441.2 1137.3h0M442 1137.3h0M442.8 1137.2h0M443.6 1137.2h0M444.7 1137.1h0M445.8 1137.1h0M446.5 1137h0M447.2 1137h0M448.6 1136.9h0M449.3 1136.9h0M450 1136.8h0M450.7 1136.8h0M451.6 1136.7h0M452.6 1136.7h0M453.2 1136.6h0M453.9 1136.6h0M454.5 1136.6h0M455.1 1136.5h0M456.6 1136.5h0M457.7 1136.4h0M459.1 1136.3h0M459.9 1136.3h0M460.8 1136.2h0M461.8 1136.1h0M463.4 1136h0M464.9 1135.9h0M465.8 1135.8h0M466.8 1135.7h0M467.7 1135.7h0M468.7 1135.6h0M469.8 1135.5h0M470.4 1135.4h0M470.4 1135.9h0M471.3 1135.4h0M471.3 1135.9h0M472.4 1135.3h0M472.4 1135.9h0M473.2 1135.2h0M473.2 1135.8h0M473.8 1135.2h0M473.8 1135.8h0M474.6 1135.1h0M474.6 1135.7h0M475.4 1135h0M475.4 1135.7h0M476.6 1134.9h0M476.6 1135.7h0M477.4 1134.9h0M477.4 1135.6h0M478.1 1134.8h0M478.1 1135.6h0M478.9 1134.7h0M478.9 1135.5h0M480.3 1134.6h0M480.3 1135.5h0M481 1134.6h0M481 1135.4h0M482.1 1134.5h0M482.1 1135.4h0M482.8 1134.4h0M482.8 1135.4h0M483.6 1134.4h0M483.6 1135.3h0M484.4 1134.3h0M484.4 1135.3h0M485.7 1134.2h0M485.7 1135.2h0M486.4 1134.2h0M486.4 1135.2h0M487 1134.1h0M487 1135.1h0M487.9 1134.1h0M487.9 1135.1h0M488.5 1134h0M488.5 1135.1h0M489.3 1134h0M489.3 1135h0M490 1133.9h0M490 1135h0M490.9 1133.9h0M490.9 1134.9h0M491.6 1133.8h0M491.6 1134.9h0M492.3 1133.8h0M492.3 1134.9h0M493.1 1133.7h0M493.1 1134.8h0M493.8 1133.6h0M493.8 1134.8h0M494.5 1133.6h0M494.5 1134.7h0M495.4 1133.5h0M495.4 1134.7h0M496.1 1133.5h0M496.1 1134.7h0M496.8 1133.4h0M496.8 1134.6h0M497.5 1133.4h0M497.5 1134.6h0M498.1 1133.3h0M498.1 1134.6h0M499.3 1133.3h0M499.3 1134.5h0M499.9 1133.2h0M499.9 1134.5h0M500.7 1133.2h0M500.7 1134.4h0M501.7 1133.1h0M501.7 1134.4h0M502.4 1133h0M502.4 1134.3h0M503 1133h0M503 1134.3h0M503.9 1132.9h0M503.9 1134.2h0M504.6 1132.8h0M504.6 1134.2h0M505.6 1132.6h0M505.6 1134.1h0M506.3 1132.5h0M506.3 1134.1h0M507.3 1132.4h0M507.3 1134h0M508.2 1132.3h0M508.2 1134h0M509 1132.2h0M509 1134h0M509.7 1132.1h0M509.7 1133.9h0M510.6 1132h0M510.6 1133.9h0M511.4 1131.9h0M511.4 1133.8h0M512.2 1131.8h0M512.2 1133.8h0M512.8 1131.7h0M512.8 1133.7h0M513.5 1131.6h0M513.5 1133.7h0M514.3 1131.5h0M514.3 1133.7h0M514.9 1131.4h0M514.9 1133.6h0M515.6 1131.3h0M515.6 1133.6h0M516.3 1131.2h0M516.3 1133.5h0M517 1131.1h0M517 1133.5h0M517.7 1131h0M517.7 1133.5h0M518.4 1130.9h0M518.4 1133.4h0M519.1 1130.8h0M519.1 1133.4h0M519.7 1130.8h0M519.7 1133.3h0M520.5 1130.7h0M520.5 1133.3h0M521.3 1130.6h0M521.3 1133.3h0M522.1 1130.4h0M522.1 1133.2h0M522.8 1130.4h0M522.8 1133.2h0M523.5 1130.3h0M523.5 1133.1h0M524.2 1130.1h0M524.2 1133h0M525 1130h0M525 1132.9h0M525.7 1129.8h0M525.7 1132.8h0M526.5 1129.6h0M526.5 1132.7h0M527.2 1129.5h0M527.2 1132.6h0M527.8 1129.3h0M527.8 1132.5h0M528.5 1129.2h0M528.5 1132.4h0M529.4 1129h0M529.4 1132.2h0M530.1 1128.8h0M530.1 1132.1h0M530.7 1128.7h0M530.7 1132h0M531.6 1128.5h0M531.6 1131.9h0M532.2 1128.4h0M532.2 1131.8h0M532.8 1128.2h0M532.8 1131.7h0M533.5 1128.1h0M533.5 1131.5h0M534.2 1127.9h0M534.2 1131.4h0M534.9 1127.8h0M534.9 1131.2h0M535.7 1127.6h0M535.7 1131h0M536.4 1127.4h0M536.4 1130.7h0M537.1 1127.3h0M537.1 1130.5h0M537.7 1127.2h0M537.7 1130.3h0M538.5 1127h0M538.5 1130h0M539.2 1126.8h0M539.2 1129.8h0M539.9 1126.7h0M539.9 1129.6h0M540.6 1126.5h0M540.6 1129.3h0M541.2 1126.4h0M541.2 1129.1h0M541.9 1126.2h0M541.9 1128.9h0M542.7 1126.1h0M542.7 1128.6h0M543.4 1125.9h0M543.4 1128.4h0M544 1125.8h0M544 1128.2h0M544.6 1125.6h0M544.6 1128h0M545.3 1125.4h0M545.3 1127.7h0M545.9 1125.2h0M545.9 1127.4h0M546.6 1124.9h0M546.6 1127h0M547.3 1124.6h0M547.3 1126.7h0M547.9 1124.3h0M547.9 1126.3h0M548.5 1124.1h0M548.5 1126h0M549.2 1123.9h0M549.2 1125.7h0M549.8 1123.6h0M549.8 1125.4h0M550.4 1123.3h0M550.4 1125.1h0M551.1 1123.1h0M551.1 1124.8h0M551.8 1122.8h0M551.8 1124.4h0M552.4 1122.6h0M552.4 1124.1h0M553.2 1122.2h0M553.2 1123.7h0M553.8 1122h0M553.8 1123.4h0M554.5 1121.7h0M554.5 1123.1h0M555.1 1121.5h0M555.1 1122.8h0M555.9 1121.1h0M555.9 1122.3h0M556.5 1120.7h0M556.5 1121.9h0M557.3 1120.2h0M557.3 1121.3h0M558 1119.8h0M558 1120.9h0M558.6 1119.5h0M558.6 1120.4h0M559.3 1119h0M559.3 1119.9h0M559.9 1118.7h0M559.9 1119.5h0M560.5 1118.3h0M560.5 1119.1h0M561.3 1117.9h0M561.3 1118.5h0M562 1117.4h0M562 1118h0M562.7 1117h0M562.7 1117.6h0M563.3 1116.7h0M564 1116.3h0M564.6 1115.9h0M565.3 1115.5h0M565.9 1115.1h0M566.5 1114.7h0M567.2 1114.2h0M567.9 1113.8h0M568.5 1113.3h0M569.1 1112.9h0M569.1 1113.4h0M569.8 1112.4h0M569.8 1113h0M570.4 1111.9h0M570.4 1112.6h0M571 1111.5h0M571 1112.2h0M571.8 1111h0M571.8 1111.8h0M572.4 1110.5h0M572.4 1111.4h0M573.1 1110.1h0M573.1 1111h0M573.7 1109.6h0M573.7 1110.6h0M574.3 1109.2h0M574.3 1110.2h0M575 1108.7h0M575 1109.8h0M575.6 1108.3h0M575.6 1109.4h0M576.3 1107.8h0M576.3 1109h0M576.9 1107.3h0M576.9 1108.7h0M577.6 1106.8h0M577.6 1108.4h0M578.3 1106.3h0M578.3 1108h0M578.9 1105.8h0M578.9 1107.7h0M579.6 1105.3h0M579.6 1107.4h0M580.2 1104.8h0M580.2 1107.1h0M580.8 1104.4h0M580.8 1106.8h0M581.5 1103.9h0M581.5 1106.4h0M582.1 1103.4h0M582.1 1106.1h0M582.8 1102.9h0M582.8 1105.8h0M583.4 1102.4h0M583.4 1105.5h0M584 1101.9h0M584 1105.2h0M584.7 1101.4h0M584.7 1104.8h0M585.4 1100.8h0M585.4 1104.5h0M586 1100.4h0M586 1104.2h0M586.6 1099.9h0M586.6 1103.9h0M587.3 1099.9h0M587.3 1103.4h0M587.9 1100h0M587.9 1103h0" fill="none" stroke="#000" stroke-width="7.20" stroke-linecap="round"/>
<rect x="160.30" y="18.28" width="494.70" height="481.78" fill="none" stroke="#111" stroke-width="2"/>
<line x1="151.00" y1="18.28" x2="160.30" y2="18.28" stroke="#111" stroke-width="2"/>
<line x1="655.00" y1="18.28" x2="663.80" y2="18.28" stroke="#111" stroke-width="2"/>
<text transform="translate(83.86,30.51) scale(1.2472,1)" font-family="Liberation Serif" font-weight="normal" font-style="normal" font-size="32.75" fill="#000"  stroke="#000" stroke-width="0.9" stroke-linejoin="round">10</text>
<text transform="translate(125.69,18.12) scale(1.2683,1)" font-family="Liberation Serif" font-weight="normal" font-style="normal" font-size="22.78" fill="#000"  stroke="#000" stroke-width="0.7200000000000001" stroke-linejoin="round">2</text>
<text transform="translate(669.16,30.51) scale(1.2472,1)" font-family="Liberation Serif" font-weight="normal" font-style="normal" font-size="32.75" fill="#000"  stroke="#000" stroke-width="0.9" stroke-linejoin="round">10</text>
<text transform="translate(710.99,18.12) scale(1.2683,1)" font-family="Liberation Serif" font-weight="normal" font-style="normal" font-size="22.78" fill="#000"  stroke="#000" stroke-width="0.7200000000000001" stroke-linejoin="round">2</text>
<line x1="151.00" y1="92.40" x2="160.30" y2="92.40" stroke="#111" stroke-width="2"/>
<line x1="655.00" y1="92.40" x2="663.80" y2="92.40" stroke="#111" stroke-width="2"/>
<text transform="translate(83.86,104.63) scale(1.2472,1)" font-family="Liberation Serif" font-weight="normal" font-style="normal" font-size="32.75" fill="#000"  stroke="#000" stroke-width="0.9" stroke-linejoin="round">10</text>
<text transform="translate(125.92,92.02) scale(1.2226,1)" font-family="Liberation Serif" font-weight="normal" font-style="normal" font-size="22.35" fill="#000"  stroke="#000" stroke-width="0.7200000000000001" stroke-linejoin="round">0</text>
<text transform="translate(669.16,104.63) scale(1.2472,1)" font-family="Liberation Serif" font-weight="normal" font-style="normal" font-size="32.75" fill="#000"  stroke="#000" stroke-width="0.9" stroke-linejoin="round">10</text>
<text transform="translate(711.22,92.02) scale(1.2226,1)" font-family="Liberation Serif" font-weight="normal" font-style="normal" font-size="22.35" fill="#000"  stroke="#000" stroke-width="0.7200000000000001" stroke-linejoin="round">0</text>
<line x1="151.00" y1="166.52" x2="160.30" y2="166.52" stroke="#111" stroke-width="2"/>
<line x1="655.00" y1="166.52" x2="663.80" y2="166.52" stroke="#111" stroke-width="2"/>
<text transform="translate(59.66,178.75) scale(1.2472,1)" font-family="Liberation Serif" font-weight="normal" font-style="normal" font-size="32.75" fill="#000"  stroke="#000" stroke-width="0.9" stroke-linejoin="round">10</text>
<rect x="103.30" y="159.42" width="19" height="2.2" fill="#000"/>
<text transform="translate(125.69,166.36) scale(1.2683,1)" font-family="Liberation Serif" font-weight="normal" font-style="normal" font-size="22.78" fill="#000"  stroke="#000" stroke-width="0.7200000000000001" stroke-linejoin="round">2</text>
<text transform="translate(669.16,178.75) scale(1.2472,1)" font-family="Liberation Serif" font-weight="normal" font-style="normal" font-size="32.75" fill="#000"  stroke="#000" stroke-width="0.9" stroke-linejoin="round">10</text>
<rect x="712.80" y="159.42" width="19" height="2.2" fill="#000"/>
<text transform="translate(735.19,166.36) scale(1.2683,1)" font-family="Liberation Serif" font-weight="normal" font-style="normal" font-size="22.78" fill="#000"  stroke="#000" stroke-width="0.7200000000000001" stroke-linejoin="round">2</text>
<line x1="151.00" y1="240.64" x2="160.30" y2="240.64" stroke="#111" stroke-width="2"/>
<line x1="655.00" y1="240.64" x2="663.80" y2="240.64" stroke="#111" stroke-width="2"/>
<text transform="translate(59.66,252.87) scale(1.2472,1)" font-family="Liberation Serif" font-weight="normal" font-style="normal" font-size="32.75" fill="#000"  stroke="#000" stroke-width="0.9" stroke-linejoin="round">10</text>
<rect x="103.30" y="233.54" width="19" height="2.2" fill="#000"/>
<text transform="translate(126.47,240.48) scale(1.0873,1)" font-family="Liberation Serif" font-weight="normal" font-style="normal" font-size="22.91" fill="#000"  stroke="#000" stroke-width="0.7200000000000001" stroke-linejoin="round">4</text>
<text transform="translate(669.16,252.87) scale(1.2472,1)" font-family="Liberation Serif" font-weight="normal" font-style="normal" font-size="32.75" fill="#000"  stroke="#000" stroke-width="0.9" stroke-linejoin="round">10</text>
<rect x="712.80" y="233.54" width="19" height="2.2" fill="#000"/>
<text transform="translate(735.97,240.48) scale(1.0873,1)" font-family="Liberation Serif" font-weight="normal" font-style="normal" font-size="22.91" fill="#000"  stroke="#000" stroke-width="0.7200000000000001" stroke-linejoin="round">4</text>
<line x1="151.00" y1="314.76" x2="160.30" y2="314.76" stroke="#111" stroke-width="2"/>
<line x1="655.00" y1="314.76" x2="663.80" y2="314.76" stroke="#111" stroke-width="2"/>
<text transform="translate(59.66,326.99) scale(1.2472,1)" font-family="Liberation Serif" font-weight="normal" font-style="normal" font-size="32.75" fill="#000"  stroke="#000" stroke-width="0.9" stroke-linejoin="round">10</text>
<rect x="103.30" y="307.66" width="19" height="2.2" fill="#000"/>
<text transform="translate(125.80,314.38) scale(1.2076,1)" font-family="Liberation Serif" font-weight="normal" font-style="normal" font-size="22.44" fill="#000"  stroke="#000" stroke-width="0.7200000000000001" stroke-linejoin="round">6</text>
<text transform="translate(669.16,326.99) scale(1.2472,1)" font-family="Liberation Serif" font-weight="normal" font-style="normal" font-size="32.75" fill="#000"  stroke="#000" stroke-width="0.9" stroke-linejoin="round">10</text>
<rect x="712.80" y="307.66" width="19" height="2.2" fill="#000"/>
<text transform="translate(735.30,314.38) scale(1.2076,1)" font-family="Liberation Serif" font-weight="normal" font-style="normal" font-size="22.44" fill="#000"  stroke="#000" stroke-width="0.7200000000000001" stroke-linejoin="round">6</text>
<line x1="151.00" y1="388.88" x2="160.30" y2="388.88" stroke="#111" stroke-width="2"/>
<line x1="655.00" y1="388.88" x2="663.80" y2="388.88" stroke="#111" stroke-width="2"/>
<text transform="translate(59.66,401.11) scale(1.2472,1)" font-family="Liberation Serif" font-weight="normal" font-style="normal" font-size="32.75" fill="#000"  stroke="#000" stroke-width="0.9" stroke-linejoin="round">10</text>
<rect x="103.30" y="381.78" width="19" height="2.2" fill="#000"/>
<text transform="translate(125.92,388.50) scale(1.2226,1)" font-family="Liberation Serif" font-weight="normal" font-style="normal" font-size="22.35" fill="#000"  stroke="#000" stroke-width="0.7200000000000001" stroke-linejoin="round">8</text>
<text transform="translate(669.16,401.11) scale(1.2472,1)" font-family="Liberation Serif" font-weight="normal" font-style="normal" font-size="32.75" fill="#000"  stroke="#000" stroke-width="0.9" stroke-linejoin="round">10</text>
<rect x="712.80" y="381.78" width="19" height="2.2" fill="#000"/>
<text transform="translate(735.42,388.50) scale(1.2226,1)" font-family="Liberation Serif" font-weight="normal" font-style="normal" font-size="22.35" fill="#000"  stroke="#000" stroke-width="0.7200000000000001" stroke-linejoin="round">8</text>
<line x1="151.00" y1="463.00" x2="160.30" y2="463.00" stroke="#111" stroke-width="2"/>
<line x1="655.00" y1="463.00" x2="663.80" y2="463.00" stroke="#111" stroke-width="2"/>
<text transform="translate(45.66,475.23) scale(1.2472,1)" font-family="Liberation Serif" font-weight="normal" font-style="normal" font-size="32.75" fill="#000"  stroke="#000" stroke-width="0.9" stroke-linejoin="round">10</text>
<rect x="89.30" y="455.90" width="19" height="2.2" fill="#000"/>
<text transform="translate(110.39,462.62) scale(1.3096,1)" font-family="Liberation Serif" font-weight="normal" font-style="normal" font-size="22.35" fill="#000"  stroke="#000" stroke-width="0.7200000000000001" stroke-linejoin="round">10</text>
<text transform="translate(669.16,475.23) scale(1.2472,1)" font-family="Liberation Serif" font-weight="normal" font-style="normal" font-size="32.75" fill="#000"  stroke="#000" stroke-width="0.9" stroke-linejoin="round">10</text>
<rect x="712.80" y="455.90" width="19" height="2.2" fill="#000"/>
<text transform="translate(733.89,462.62) scale(1.3096,1)" font-family="Liberation Serif" font-weight="normal" font-style="normal" font-size="22.35" fill="#000"  stroke="#000" stroke-width="0.7200000000000001" stroke-linejoin="round">10</text>
<line x1="209.60" y1="500.06" x2="209.60" y2="509.36" stroke="#111" stroke-width="2"/>
<text transform="translate(178.66,541.73) scale(1.2472,1)" font-family="Liberation Serif" font-weight="normal" font-style="normal" font-size="32.75" fill="#000"  stroke="#000" stroke-width="0.9" stroke-linejoin="round">10</text>
<text transform="translate(220.32,528.72) scale(1.2226,1)" font-family="Liberation Serif" font-weight="normal" font-style="normal" font-size="22.35" fill="#000"  stroke="#000" stroke-width="0.7200000000000001" stroke-linejoin="round">0</text>
<line x1="432.25" y1="500.06" x2="432.25" y2="509.36" stroke="#111" stroke-width="2"/>
<text transform="translate(401.31,541.73) scale(1.2472,1)" font-family="Liberation Serif" font-weight="normal" font-style="normal" font-size="32.75" fill="#000"  stroke="#000" stroke-width="0.9" stroke-linejoin="round">10</text>
<text transform="translate(442.69,528.94) scale(1.0545,1)" font-family="Liberation Serif" font-weight="normal" font-style="normal" font-size="22.84" fill="#000"  stroke="#000" stroke-width="0.7200000000000001" stroke-linejoin="round">1</text>
<line x1="654.90" y1="500.06" x2="654.90" y2="509.36" stroke="#111" stroke-width="2"/>
<text transform="translate(623.96,541.73) scale(1.2472,1)" font-family="Liberation Serif" font-weight="normal" font-style="normal" font-size="32.75" fill="#000"  stroke="#000" stroke-width="0.9" stroke-linejoin="round">10</text>
<text transform="translate(665.39,528.94) scale(1.2683,1)" font-family="Liberation Serif" font-weight="normal" font-style="normal" font-size="22.78" fill="#000"  stroke="#000" stroke-width="0.7200000000000001" stroke-linejoin="round">2</text>
<line x1="160.21" y1="500.06" x2="160.21" y2="505.56" stroke="#111" stroke-width="1.6"/>
<line x1="175.11" y1="500.06" x2="175.11" y2="505.56" stroke="#111" stroke-width="1.6"/>
<line x1="188.02" y1="500.06" x2="188.02" y2="505.56" stroke="#111" stroke-width="1.6"/>
<line x1="199.41" y1="500.06" x2="199.41" y2="505.56" stroke="#111" stroke-width="1.6"/>
<line x1="276.62" y1="500.06" x2="276.62" y2="505.56" stroke="#111" stroke-width="1.6"/>
<line x1="315.83" y1="500.06" x2="315.83" y2="505.56" stroke="#111" stroke-width="1.6"/>
<line x1="343.65" y1="500.06" x2="343.65" y2="505.56" stroke="#111" stroke-width="1.6"/>
<line x1="365.23" y1="500.06" x2="365.23" y2="505.56" stroke="#111" stroke-width="1.6"/>
<line x1="382.86" y1="500.06" x2="382.86" y2="505.56" stroke="#111" stroke-width="1.6"/>
<line x1="397.76" y1="500.06" x2="397.76" y2="505.56" stroke="#111" stroke-width="1.6"/>
<line x1="410.67" y1="500.06" x2="410.67" y2="505.56" stroke="#111" stroke-width="1.6"/>
<line x1="422.06" y1="500.06" x2="422.06" y2="505.56" stroke="#111" stroke-width="1.6"/>
<line x1="499.27" y1="500.06" x2="499.27" y2="505.56" stroke="#111" stroke-width="1.6"/>
<line x1="538.48" y1="500.06" x2="538.48" y2="505.56" stroke="#111" stroke-width="1.6"/>
<line x1="566.30" y1="500.06" x2="566.30" y2="505.56" stroke="#111" stroke-width="1.6"/>
<line x1="587.88" y1="500.06" x2="587.88" y2="505.56" stroke="#111" stroke-width="1.6"/>
<line x1="605.51" y1="500.06" x2="605.51" y2="505.56" stroke="#111" stroke-width="1.6"/>
<line x1="620.41" y1="500.06" x2="620.41" y2="505.56" stroke="#111" stroke-width="1.6"/>
<line x1="633.32" y1="500.06" x2="633.32" y2="505.56" stroke="#111" stroke-width="1.6"/>
<line x1="644.71" y1="500.06" x2="644.71" y2="505.56" stroke="#111" stroke-width="1.6"/>
<rect x="160.30" y="693.28" width="494.70" height="481.78" fill="none" stroke="#111" stroke-width="2"/>
<line x1="151.00" y1="693.28" x2="160.30" y2="693.28" stroke="#111" stroke-width="2"/>
<line x1="655.00" y1="693.28" x2="663.80" y2="693.28" stroke="#111" stroke-width="2"/>
<text transform="translate(83.86,705.51) scale(1.2472,1)" font-family="Liberation Serif" font-weight="normal" font-style="normal" font-size="32.75" fill="#000"  stroke="#000" stroke-width="0.9" stroke-linejoin="round">10</text>
<text transform="translate(125.69,693.12) scale(1.2683,1)" font-family="Liberation Serif" font-weight="normal" font-style="normal" font-size="22.78" fill="#000"  stroke="#000" stroke-width="0.7200000000000001" stroke-linejoin="round">2</text>
<text transform="translate(669.16,705.51) scale(1.2472,1)" font-family="Liberation Serif" font-weight="normal" font-style="normal" font-size="32.75" fill="#000"  stroke="#000" stroke-width="0.9" stroke-linejoin="round">10</text>
<text transform="translate(710.99,693.12) scale(1.2683,1)" font-family="Liberation Serif" font-weight="normal" font-style="normal" font-size="22.78" fill="#000"  stroke="#000" stroke-width="0.7200000000000001" stroke-linejoin="round">2</text>
<line x1="151.00" y1="767.40" x2="160.30" y2="767.40" stroke="#111" stroke-width="2"/>
<line x1="655.00" y1="767.40" x2="663.80" y2="767.40" stroke="#111" stroke-width="2"/>
<text transform="translate(83.86,779.63) scale(1.2472,1)" font-family="Liberation Serif" font-weight="normal" font-style="normal" font-size="32.75" fill="#000"  stroke="#000" stroke-width="0.9" stroke-linejoin="round">10</text>
<text transform="translate(125.92,767.02) scale(1.2226,1)" font-family="Liberation Serif" font-weight="normal" font-style="normal" font-size="22.35" fill="#000"  stroke="#000" stroke-width="0.7200000000000001" stroke-linejoin="round">0</text>
<text transform="translate(669.16,779.63) scale(1.2472,1)" font-family="Liberation Serif" font-weight="normal" font-style="normal" font-size="32.75" fill="#000"  stroke="#000" stroke-width="0.9" stroke-linejoin="round">10</text>
<text transform="translate(711.22,767.02) scale(1.2226,1)" font-family="Liberation Serif" font-weight="normal" font-style="normal" font-size="22.35" fill="#000"  stroke="#000" stroke-width="0.7200000000000001" stroke-linejoin="round">0</text>
<line x1="151.00" y1="841.52" x2="160.30" y2="841.52" stroke="#111" stroke-width="2"/>
<line x1="655.00" y1="841.52" x2="663.80" y2="841.52" stroke="#111" stroke-width="2"/>
<text transform="translate(59.66,853.75) scale(1.2472,1)" font-family="Liberation Serif" font-weight="normal" font-style="normal" font-size="32.75" fill="#000"  stroke="#000" stroke-width="0.9" stroke-linejoin="round">10</text>
<rect x="103.30" y="834.42" width="19" height="2.2" fill="#000"/>
<text transform="translate(125.69,841.36) scale(1.2683,1)" font-family="Liberation Serif" font-weight="normal" font-style="normal" font-size="22.78" fill="#000"  stroke="#000" stroke-width="0.7200000000000001" stroke-linejoin="round">2</text>
<text transform="translate(669.16,853.75) scale(1.2472,1)" font-family="Liberation Serif" font-weight="normal" font-style="normal" font-size="32.75" fill="#000"  stroke="#000" stroke-width="0.9" stroke-linejoin="round">10</text>
<rect x="712.80" y="834.42" width="19" height="2.2" fill="#000"/>
<text transform="translate(735.19,841.36) scale(1.2683,1)" font-family="Liberation Serif" font-weight="normal" font-style="normal" font-size="22.78" fill="#000"  stroke="#000" stroke-width="0.7200000000000001" stroke-linejoin="round">2</text>
<line x1="151.00" y1="915.64" x2="160.30" y2="915.64" stroke="#111" stroke-width="2"/>
<line x1="655.00" y1="915.64" x2="663.80" y2="915.64" stroke="#111" stroke-width="2"/>
<text transform="translate(59.66,927.87) scale(1.2472,1)" font-family="Liberation Serif" font-weight="normal" font-style="normal" font-size="32.75" fill="#000"  stroke="#000" stroke-width="0.9" stroke-linejoin="round">10</text>
<rect x="103.30" y="908.54" width="19" height="2.2" fill="#000"/>
<text transform="translate(126.47,915.48) scale(1.0873,1)" font-family="Liberation Serif" font-weight="normal" font-style="normal" font-size="22.91" fill="#000"  stroke="#000" stroke-width="0.7200000000000001" stroke-linejoin="round">4</text>
<text transform="translate(669.16,927.87) scale(1.2472,1)" font-family="Liberation Serif" font-weight="normal" font-style="normal" font-size="32.75" fill="#000"  stroke="#000" stroke-width="0.9" stroke-linejoin="round">10</text>
<rect x="712.80" y="908.54" width="19" height="2.2" fill="#000"/>
<text transform="translate(735.97,915.48) scale(1.0873,1)" font-family="Liberation Serif" font-weight="normal" font-style="normal" font-size="22.91" fill="#000"  stroke="#000" stroke-width="0.7200000000000001" stroke-linejoin="round">4</text>
<line x1="151.00" y1="989.76" x2="160.30" y2="989.76" stroke="#111" stroke-width="2"/>
<line x1="655.00" y1="989.76" x2="663.80" y2="989.76" stroke="#111" stroke-width="2"/>
<text transform="translate(59.66,1001.99) scale(1.2472,1)" font-family="Liberation Serif" font-weight="normal" font-style="normal" font-size="32.75" fill="#000"  stroke="#000" stroke-width="0.9" stroke-linejoin="round">10</text>
<rect x="103.30" y="982.66" width="19" height="2.2" fill="#000"/>
<text transform="translate(125.80,989.38) scale(1.2076,1)" font-family="Liberation Serif" font-weight="normal" font-style="normal" font-size="22.44" fill="#000"  stroke="#000" stroke-width="0.7200000000000001" stroke-linejoin="round">6</text>
<text transform="translate(669.16,1001.99) scale(1.2472,1)" font-family="Liberation Serif" font-weight="normal" font-style="normal" font-size="32.75" fill="#000"  stroke="#000" stroke-width="0.9" stroke-linejoin="round">10</text>
<rect x="712.80" y="982.66" width="19" height="2.2" fill="#000"/>
<text transform="translate(735.30,989.38) scale(1.2076,1)" font-family="Liberation Serif" font-weight="normal" font-style="normal" font-size="22.44" fill="#000"  stroke="#000" stroke-width="0.7200000000000001" stroke-linejoin="round">6</text>
<line x1="151.00" y1="1063.88" x2="160.30" y2="1063.88" stroke="#111" stroke-width="2"/>
<line x1="655.00" y1="1063.88" x2="663.80" y2="1063.88" stroke="#111" stroke-width="2"/>
<text transform="translate(59.66,1076.11) scale(1.2472,1)" font-family="Liberation Serif" font-weight="normal" font-style="normal" font-size="32.75" fill="#000"  stroke="#000" stroke-width="0.9" stroke-linejoin="round">10</text>
<rect x="103.30" y="1056.78" width="19" height="2.2" fill="#000"/>
<text transform="translate(125.92,1063.50) scale(1.2226,1)" font-family="Liberation Serif" font-weight="normal" font-style="normal" font-size="22.35" fill="#000"  stroke="#000" stroke-width="0.7200000000000001" stroke-linejoin="round">8</text>
<text transform="translate(669.16,1076.11) scale(1.2472,1)" font-family="Liberation Serif" font-weight="normal" font-style="normal" font-size="32.75" fill="#000"  stroke="#000" stroke-width="0.9" stroke-linejoin="round">10</text>
<rect x="712.80" y="1056.78" width="19" height="2.2" fill="#000"/>
<text transform="translate(735.42,1063.50) scale(1.2226,1)" font-family="Liberation Serif" font-weight="normal" font-style="normal" font-size="22.35" fill="#000"  stroke="#000" stroke-width="0.7200000000000001" stroke-linejoin="round">8</text>
<line x1="151.00" y1="1138.00" x2="160.30" y2="1138.00" stroke="#111" stroke-width="2"/>
<line x1="655.00" y1="1138.00" x2="663.80" y2="1138.00" stroke="#111" stroke-width="2"/>
<text transform="translate(45.66,1150.23) scale(1.2472,1)" font-family="Liberation Serif" font-weight="normal" font-style="normal" font-size="32.75" fill="#000"  stroke="#000" stroke-width="0.9" stroke-linejoin="round">10</text>
<rect x="89.30" y="1130.90" width="19" height="2.2" fill="#000"/>
<text transform="translate(110.39,1137.62) scale(1.3096,1)" font-family="Liberation Serif" font-weight="normal" font-style="normal" font-size="22.35" fill="#000"  stroke="#000" stroke-width="0.7200000000000001" stroke-linejoin="round">10</text>
<text transform="translate(669.16,1150.23) scale(1.2472,1)" font-family="Liberation Serif" font-weight="normal" font-style="normal" font-size="32.75" fill="#000"  stroke="#000" stroke-width="0.9" stroke-linejoin="round">10</text>
<rect x="712.80" y="1130.90" width="19" height="2.2" fill="#000"/>
<text transform="translate(733.89,1137.62) scale(1.3096,1)" font-family="Liberation Serif" font-weight="normal" font-style="normal" font-size="22.35" fill="#000"  stroke="#000" stroke-width="0.7200000000000001" stroke-linejoin="round">10</text>
<line x1="209.60" y1="1175.06" x2="209.60" y2="1184.36" stroke="#111" stroke-width="2"/>
<text transform="translate(178.66,1216.73) scale(1.2472,1)" font-family="Liberation Serif" font-weight="normal" font-style="normal" font-size="32.75" fill="#000"  stroke="#000" stroke-width="0.9" stroke-linejoin="round">10</text>
<text transform="translate(220.32,1203.72) scale(1.2226,1)" font-family="Liberation Serif" font-weight="normal" font-style="normal" font-size="22.35" fill="#000"  stroke="#000" stroke-width="0.7200000000000001" stroke-linejoin="round">0</text>
<line x1="432.25" y1="1175.06" x2="432.25" y2="1184.36" stroke="#111" stroke-width="2"/>
<text transform="translate(401.31,1216.73) scale(1.2472,1)" font-family="Liberation Serif" font-weight="normal" font-style="normal" font-size="32.75" fill="#000"  stroke="#000" stroke-width="0.9" stroke-linejoin="round">10</text>
<text transform="translate(442.69,1203.94) scale(1.0545,1)" font-family="Liberation Serif" font-weight="normal" font-style="normal" font-size="22.84" fill="#000"  stroke="#000" stroke-width="0.7200000000000001" stroke-linejoin="round">1</text>
<line x1="654.90" y1="1175.06" x2="654.90" y2="1184.36" stroke="#111" stroke-width="2"/>
<text transform="translate(623.96,1216.73) scale(1.2472,1)" font-family="Liberation Serif" font-weight="normal" font-style="normal" font-size="32.75" fill="#000"  stroke="#000" stroke-width="0.9" stroke-linejoin="round">10</text>
<text transform="translate(665.39,1203.94) scale(1.2683,1)" font-family="Liberation Serif" font-weight="normal" font-style="normal" font-size="22.78" fill="#000"  stroke="#000" stroke-width="0.7200000000000001" stroke-linejoin="round">2</text>
<line x1="160.21" y1="1175.06" x2="160.21" y2="1180.56" stroke="#111" stroke-width="1.6"/>
<line x1="175.11" y1="1175.06" x2="175.11" y2="1180.56" stroke="#111" stroke-width="1.6"/>
<line x1="188.02" y1="1175.06" x2="188.02" y2="1180.56" stroke="#111" stroke-width="1.6"/>
<line x1="199.41" y1="1175.06" x2="199.41" y2="1180.56" stroke="#111" stroke-width="1.6"/>
<line x1="276.62" y1="1175.06" x2="276.62" y2="1180.56" stroke="#111" stroke-width="1.6"/>
<line x1="315.83" y1="1175.06" x2="315.83" y2="1180.56" stroke="#111" stroke-width="1.6"/>
<line x1="343.65" y1="1175.06" x2="343.65" y2="1180.56" stroke="#111" stroke-width="1.6"/>
<line x1="365.23" y1="1175.06" x2="365.23" y2="1180.56" stroke="#111" stroke-width="1.6"/>
<line x1="382.86" y1="1175.06" x2="382.86" y2="1180.56" stroke="#111" stroke-width="1.6"/>
<line x1="397.76" y1="1175.06" x2="397.76" y2="1180.56" stroke="#111" stroke-width="1.6"/>
<line x1="410.67" y1="1175.06" x2="410.67" y2="1180.56" stroke="#111" stroke-width="1.6"/>
<line x1="422.06" y1="1175.06" x2="422.06" y2="1180.56" stroke="#111" stroke-width="1.6"/>
<line x1="499.27" y1="1175.06" x2="499.27" y2="1180.56" stroke="#111" stroke-width="1.6"/>
<line x1="538.48" y1="1175.06" x2="538.48" y2="1180.56" stroke="#111" stroke-width="1.6"/>
<line x1="566.30" y1="1175.06" x2="566.30" y2="1180.56" stroke="#111" stroke-width="1.6"/>
<line x1="587.88" y1="1175.06" x2="587.88" y2="1180.56" stroke="#111" stroke-width="1.6"/>
<line x1="605.51" y1="1175.06" x2="605.51" y2="1180.56" stroke="#111" stroke-width="1.6"/>
<line x1="620.41" y1="1175.06" x2="620.41" y2="1180.56" stroke="#111" stroke-width="1.6"/>
<line x1="633.32" y1="1175.06" x2="633.32" y2="1180.56" stroke="#111" stroke-width="1.6"/>
<line x1="644.71" y1="1175.06" x2="644.71" y2="1180.56" stroke="#111" stroke-width="1.6"/>
<line x1="1.3" y1="520.00" x2="36" y2="520.00" stroke="#000" stroke-width="2.4"/>
<line x1="1.3" y1="527.10" x2="36" y2="527.10" stroke="#000" stroke-width="2.4"/>
<g transform="rotate(-90)"><text transform="translate(-512.88,27.25) scale(1.3517,1)" font-family="Liberation Serif" font-weight="normal" font-style="normal" font-size="35.60" fill="#000"  stroke="#000" stroke-width="1.5" stroke-linejoin="round">Δ</text></g>
<g transform="rotate(-90)"><text transform="translate(-483.23,26.85) scale(1.5844,1)" font-family="Liberation Serif" font-weight="normal" font-style="italic" font-size="33.99" fill="#000"  stroke="#000" stroke-width="0.5" stroke-linejoin="round">u</text></g>
<g transform="rotate(-90)"><text transform="translate(-454.36,32.42) scale(1.2322,1)" font-family="Liberation Serif" font-weight="normal" font-style="italic" font-size="25.28" fill="#000"  stroke="#000" stroke-width="0.95" stroke-linejoin="round">F</text></g>
<g transform="rotate(-90)"><text transform="translate(-431.83,32.35) scale(1.3062,1)" font-family="Liberation Serif" font-weight="normal" font-style="italic" font-size="25.16" fill="#000"  stroke="#000" stroke-width="0.95" stroke-linejoin="round">B</text></g>
<g transform="rotate(-90)"><text transform="translate(-410.41,32.20) scale(1.3760,1)" font-family="Liberation Serif" font-weight="normal" font-style="italic" font-size="24.65" fill="#000"  stroke="#000" stroke-width="0.95" stroke-linejoin="round">C</text></g>
<g transform="rotate(-90)"><text transform="translate(-385.16,32.42) scale(1.2461,1)" font-family="Liberation Serif" font-weight="normal" font-style="italic" font-size="25.28" fill="#000"  stroke="#000" stroke-width="0.95" stroke-linejoin="round">M</text></g>
<g transform="rotate(-90)"><text transform="translate(-347.83,27.31) scale(1.0102,1)" font-family="Liberation Serif" font-weight="normal" font-style="normal" font-size="36.61" fill="#000"  stroke="#000" stroke-width="0.8" stroke-linejoin="round">(</text></g>
<g transform="rotate(-90)"><text transform="translate(-335.54,28.30) scale(1.1950,1)" font-family="Liberation Serif" font-weight="normal" font-style="italic" font-size="36.57" fill="#000"  stroke="#000" stroke-width="0.5" stroke-linejoin="round">ξ</text></g>
<g transform="rotate(-90)"><text transform="translate(-313.34,28.54) scale(0.6260,1)" font-family="Liberation Serif" font-weight="bold" font-style="normal" font-size="35.28" fill="#000" >;</text></g>
<g transform="rotate(-90)"><text transform="translate(-300.08,26.85) scale(1.4352,1)" font-family="Liberation Serif" font-weight="normal" font-style="italic" font-size="33.99" fill="#000"  stroke="#000" stroke-width="0.5" stroke-linejoin="round">u</text></g>
<g transform="rotate(-90)"><text transform="translate(-273.10,32.02) scale(1.7089,1)" font-family="Liberation Serif" font-weight="normal" font-style="italic" font-size="23.94" fill="#000"  stroke="#000" stroke-width="0.95" stroke-linejoin="round">i</text></g>
<g transform="rotate(-90)"><text transform="translate(-261.44,32.02) scale(2.0855,1)" font-family="Liberation Serif" font-weight="normal" font-style="italic" font-size="18.99" fill="#000"  stroke="#000" stroke-width="0.95" stroke-linejoin="round">n</text></g>
<g transform="rotate(-90)"><text transform="translate(-240.80,32.02) scale(1.4041,1)" font-family="Liberation Serif" font-weight="normal" font-style="italic" font-size="23.94" fill="#000"  stroke="#000" stroke-width="0.95" stroke-linejoin="round">i</text></g>
<g transform="rotate(-90)"><text transform="translate(-228.66,31.77) scale(1.3443,1)" font-family="Liberation Serif" font-weight="normal" font-style="italic" font-size="25.93" fill="#000"  stroke="#000" stroke-width="0.95" stroke-linejoin="round">t</text></g>
<g transform="rotate(-90)"><text transform="translate(-214.97,27.31) scale(0.9039,1)" font-family="Liberation Serif" font-weight="normal" font-style="normal" font-size="36.61" fill="#000"  stroke="#000" stroke-width="0.8" stroke-linejoin="round">)</text></g>
<line x1="1.3" y1="187.20" x2="36" y2="187.20" stroke="#000" stroke-width="2.4"/>
<line x1="1.3" y1="194.20" x2="36" y2="194.20" stroke="#000" stroke-width="2.4"/>
<line x1="1.3" y1="163.90" x2="36" y2="177.60" stroke="#000" stroke-width="2.4"/>
<line x1="1.3" y1="146.40" x2="36" y2="146.40" stroke="#000" stroke-width="2.4"/>
<line x1="1.3" y1="154.40" x2="36" y2="154.40" stroke="#000" stroke-width="2.4"/>
<g transform="rotate(-90)"><text transform="translate(-141.56,26.85) scale(1.3642,1)" font-family="Liberation Serif" font-weight="normal" font-style="italic" font-size="33.99" fill="#000"  stroke="#000" stroke-width="0.5" stroke-linejoin="round">u</text></g>
<g transform="rotate(-90)"><text transform="translate(-115.08,32.02) scale(1.1157,1)" font-family="Liberation Serif" font-weight="normal" font-style="italic" font-size="18.99" fill="#000"  stroke="#000" stroke-width="0.95" stroke-linejoin="round">r</text></g>
<g transform="rotate(-90)"><text transform="translate(-98.86,31.84) scale(1.6302,1)" font-family="Liberation Serif" font-weight="normal" font-style="italic" font-size="18.61" fill="#000"  stroke="#000" stroke-width="0.95" stroke-linejoin="round">e</text></g>
<g transform="rotate(-90)"><text transform="translate(-82.36,32.53) scale(1.4729,1)" font-family="Liberation Serif" font-weight="normal" font-style="italic" font-size="24.54" fill="#000"  stroke="#000" stroke-width="0.5" stroke-linejoin="round">f</text></g>
<g transform="rotate(-90)"><text transform="translate(-61.55,27.31) scale(0.9039,1)" font-family="Liberation Serif" font-weight="normal" font-style="normal" font-size="36.61" fill="#000"  stroke="#000" stroke-width="0.8" stroke-linejoin="round">(</text></g>
<g transform="rotate(-90)"><text transform="translate(-49.36,28.30) scale(1.1256,1)" font-family="Liberation Serif" font-weight="normal" font-style="italic" font-size="36.57" fill="#000"  stroke="#000" stroke-width="0.5" stroke-linejoin="round">ξ</text></g>
<g transform="rotate(-90)"><text transform="translate(-28.73,27.31) scale(0.9570,1)" font-family="Liberation Serif" font-weight="normal" font-style="normal" font-size="36.61" fill="#000"  stroke="#000" stroke-width="0.8" stroke-linejoin="round">)</text></g>
<line x1="1.3" y1="0.90" x2="36" y2="0.90" stroke="#000" stroke-width="2.4"/>
<line x1="1.3" y1="8.00" x2="36" y2="8.00" stroke="#000" stroke-width="2.4"/>
<line x1="1.3" y1="1192.10" x2="36" y2="1192.10" stroke="#000" stroke-width="2.4"/>
<line x1="1.3" y1="1199.50" x2="36" y2="1199.50" stroke="#000" stroke-width="2.4"/>
<g transform="rotate(-90)"><text transform="translate(-1184.57,26.85) scale(1.3361,1)" font-family="Liberation Serif" font-weight="normal" font-style="normal" font-size="35.75" fill="#000"  stroke="#000" stroke-width="1.5" stroke-linejoin="round">Δ</text></g>
<g transform="rotate(-90)"><text transform="translate(-1152.60,27.03) scale(1.0879,1)" font-family="Liberation Serif" font-weight="normal" font-style="italic" font-size="32.44" fill="#000"  stroke="#000" stroke-width="0.5" stroke-linejoin="round">ϵ</text></g>
<g transform="rotate(-90)"><text transform="translate(-1133.26,32.42) scale(1.2005,1)" font-family="Liberation Serif" font-weight="normal" font-style="italic" font-size="25.28" fill="#000"  stroke="#000" stroke-width="0.95" stroke-linejoin="round">F</text></g>
<g transform="rotate(-90)"><text transform="translate(-1110.75,32.35) scale(1.4091,1)" font-family="Liberation Serif" font-weight="normal" font-style="italic" font-size="25.16" fill="#000"  stroke="#000" stroke-width="0.95" stroke-linejoin="round">B</text></g>
<g transform="rotate(-90)"><text transform="translate(-1088.03,32.20) scale(1.3891,1)" font-family="Liberation Serif" font-weight="normal" font-style="italic" font-size="24.65" fill="#000"  stroke="#000" stroke-width="0.95" stroke-linejoin="round">C</text></g>
<g transform="rotate(-90)"><text transform="translate(-1060.72,32.42) scale(1.3704,1)" font-family="Liberation Serif" font-weight="normal" font-style="italic" font-size="25.28" fill="#000"  stroke="#000" stroke-width="0.95" stroke-linejoin="round">M</text></g>
<g transform="rotate(-90)"><text transform="translate(-1025.11,27.31) scale(0.9358,1)" font-family="Liberation Serif" font-weight="normal" font-style="normal" font-size="36.61" fill="#000"  stroke="#000" stroke-width="0.8" stroke-linejoin="round">(</text></g>
<g transform="rotate(-90)"><text transform="translate(-1010.19,27.25) scale(1.3105,1)" font-family="Liberation Serif" font-weight="normal" font-style="italic" font-size="34.86" fill="#000"  stroke="#000" stroke-width="0.5" stroke-linejoin="round">x</text></g>
<g transform="rotate(-90)"><text transform="translate(-986.85,28.54) scale(0.7398,1)" font-family="Liberation Serif" font-weight="bold" font-style="normal" font-size="35.28" fill="#000" >;</text></g>
<g transform="rotate(-90)"><text transform="translate(-973.26,26.85) scale(1.6626,1)" font-family="Liberation Serif" font-weight="normal" font-style="italic" font-size="33.99" fill="#000"  stroke="#000" stroke-width="0.5" stroke-linejoin="round">u</text></g>
<g transform="rotate(-90)"><text transform="translate(-945.45,32.02) scale(1.4476,1)" font-family="Liberation Serif" font-weight="normal" font-style="italic" font-size="23.94" fill="#000"  stroke="#000" stroke-width="0.95" stroke-linejoin="round">i</text></g>
<g transform="rotate(-90)"><text transform="translate(-932.78,32.02) scale(2.1477,1)" font-family="Liberation Serif" font-weight="normal" font-style="italic" font-size="18.99" fill="#000"  stroke="#000" stroke-width="0.95" stroke-linejoin="round">n</text></g>
<g transform="rotate(-90)"><text transform="translate(-912.52,32.02) scale(1.6436,1)" font-family="Liberation Serif" font-weight="normal" font-style="italic" font-size="23.94" fill="#000"  stroke="#000" stroke-width="0.95" stroke-linejoin="round">i</text></g>
<g transform="rotate(-90)"><text transform="translate(-902.04,31.77) scale(1.2380,1)" font-family="Liberation Serif" font-weight="normal" font-style="italic" font-size="25.93" fill="#000"  stroke="#000" stroke-width="0.95" stroke-linejoin="round">t</text></g>
<g transform="rotate(-90)"><text transform="translate(-888.70,27.31) scale(0.9358,1)" font-family="Liberation Serif" font-weight="normal" font-style="normal" font-size="36.61" fill="#000"  stroke="#000" stroke-width="0.8" stroke-linejoin="round">)</text></g>
<line x1="1.3" y1="861.10" x2="36" y2="861.10" stroke="#000" stroke-width="2.4"/>
<line x1="1.3" y1="867.90" x2="36" y2="867.90" stroke="#000" stroke-width="2.4"/>
<line x1="1.3" y1="838.30" x2="36" y2="851.50" stroke="#000" stroke-width="2.4"/>
<line x1="1.3" y1="821.30" x2="36" y2="821.30" stroke="#000" stroke-width="2.4"/>
<line x1="1.3" y1="829.30" x2="36" y2="829.30" stroke="#000" stroke-width="2.4"/>
<g transform="rotate(-90)"><text transform="translate(-814.56,27.03) scale(1.0498,1)" font-family="Liberation Serif" font-weight="normal" font-style="italic" font-size="32.44" fill="#000"  stroke="#000" stroke-width="0.5" stroke-linejoin="round">ϵ</text></g>
<g transform="rotate(-90)"><text transform="translate(-795.20,32.02) scale(0.8760,1)" font-family="Liberation Serif" font-weight="normal" font-style="italic" font-size="18.99" fill="#000"  stroke="#000" stroke-width="0.95" stroke-linejoin="round">r</text></g>
<g transform="rotate(-90)"><text transform="translate(-782.66,31.84) scale(1.9879,1)" font-family="Liberation Serif" font-weight="normal" font-style="italic" font-size="18.61" fill="#000"  stroke="#000" stroke-width="0.95" stroke-linejoin="round">e</text></g>
<g transform="rotate(-90)"><text transform="translate(-765.69,32.53) scale(1.6010,1)" font-family="Liberation Serif" font-weight="normal" font-style="italic" font-size="24.54" fill="#000"  stroke="#000" stroke-width="0.5" stroke-linejoin="round">f</text></g>
<g transform="rotate(-90)"><text transform="translate(-743.41,27.31) scale(0.9996,1)" font-family="Liberation Serif" font-weight="normal" font-style="normal" font-size="36.61" fill="#000"  stroke="#000" stroke-width="0.8" stroke-linejoin="round">(</text></g>
<g transform="rotate(-90)"><text transform="translate(-728.91,27.25) scale(1.2786,1)" font-family="Liberation Serif" font-weight="normal" font-style="italic" font-size="34.86" fill="#000"  stroke="#000" stroke-width="0.5" stroke-linejoin="round">x</text></g>
<g transform="rotate(-90)"><text transform="translate(-706.53,27.31) scale(0.9570,1)" font-family="Liberation Serif" font-weight="normal" font-style="normal" font-size="36.61" fill="#000"  stroke="#000" stroke-width="0.8" stroke-linejoin="round">)</text></g>
<line x1="1.3" y1="677.70" x2="36" y2="677.70" stroke="#000" stroke-width="2.4"/>
<line x1="1.3" y1="686.20" x2="36" y2="686.20" stroke="#000" stroke-width="2.4"/>
<line x1="357.50" y1="559" x2="357.50" y2="594.4" stroke="#000" stroke-width="2.3"/>
<line x1="365.40" y1="559" x2="365.40" y2="594.4" stroke="#000" stroke-width="2.3"/>
<text transform="translate(371.12,585.94) scale(1.1288,1)" font-family="Liberation Serif" font-weight="bold" font-style="italic" font-size="35.69" fill="#000" >ξ</text>
<line x1="396.90" y1="559" x2="396.90" y2="594.4" stroke="#000" stroke-width="2.3"/>
<line x1="405.70" y1="559" x2="405.70" y2="594.4" stroke="#000" stroke-width="2.3"/>
<line x1="412.8" y1="593.6" x2="428.1" y2="559.8" stroke="#000" stroke-width="2"/>
<text transform="translate(431.74,585.17) scale(1.1941,1)" font-family="Liberation Serif" font-weight="bold" font-style="italic" font-size="32.64" fill="#000" >a</text>
<line x1="355.60" y1="1233" x2="355.60" y2="1268.5" stroke="#000" stroke-width="2.3"/>
<line x1="364.40" y1="1233" x2="364.40" y2="1268.5" stroke="#000" stroke-width="2.3"/>
<text transform="translate(371.79,1259.60) scale(1.1807,1)" font-family="Liberation Serif" font-weight="bold" font-style="italic" font-size="34.21" fill="#000" >x</text>
<line x1="398.80" y1="1233" x2="398.80" y2="1268.5" stroke="#000" stroke-width="2.3"/>
<line x1="406.60" y1="1233" x2="406.60" y2="1268.5" stroke="#000" stroke-width="2.3"/>
<line x1="414.7" y1="1267.7" x2="431" y2="1233.8" stroke="#000" stroke-width="2"/>
<text transform="translate(433.71,1259.27) scale(1.2930,1)" font-family="Liberation Serif" font-weight="bold" font-style="italic" font-size="32.64" fill="#000" >a</text>
<text transform="translate(105.19,638.10) scale(1.2326,1)" font-family="Liberation Serif" font-weight="normal" font-style="normal" font-size="33.50" fill="#000">(a)</text>
<text transform="translate(164.89,638.10) scale(1.2099,1)" font-family="Liberation Serif" font-weight="normal" font-style="normal" font-size="33.50" fill="#000">relative</text>
<text transform="translate(298.40,638.10) scale(1.2224,1)" font-family="Liberation Serif" font-weight="normal" font-style="normal" font-size="33.50" fill="#000">error</text>
<text transform="translate(391.97,638.10) scale(1.1832,1)" font-family="Liberation Serif" font-weight="normal" font-style="normal" font-size="33.50" fill="#000">in</text>
<text transform="translate(435.55,638.10) scale(1.1993,1)" font-family="Liberation Serif" font-weight="normal" font-style="normal" font-size="33.50" fill="#000">displacements</text>
<text transform="translate(161.93,1312.40) scale(1.2709,1)" font-family="Liberation Serif" font-weight="normal" font-style="normal" font-size="33.50" fill="#000">(b)</text>
<text transform="translate(224.59,1312.40) scale(1.2130,1)" font-family="Liberation Serif" font-weight="normal" font-style="normal" font-size="33.50" fill="#000">relative</text>
<text transform="translate(357.19,1312.40) scale(1.2271,1)" font-family="Liberation Serif" font-weight="normal" font-style="normal" font-size="33.50" fill="#000">error</text>
<text transform="translate(451.78,1312.40) scale(1.1671,1)" font-family="Liberation Serif" font-weight="normal" font-style="normal" font-size="33.50" fill="#000">in</text>
<text transform="translate(494.05,1312.40) scale(1.2759,1)" font-family="Liberation Serif" font-weight="normal" font-style="normal" font-size="33.50" fill="#000">strains</text>
<text transform="translate(224.54,54.65) scale(1.5515,1)" font-family="Liberation Serif" font-weight="normal" font-style="italic" font-size="33.78" fill="#bcbd22"  stroke="#bcbd22" stroke-width="0.7" stroke-linejoin="round">u</text>
<text transform="translate(249.73,59.46) scale(1.7224,1)" font-family="Liberation Serif" font-weight="normal" font-style="italic" font-size="19.34" fill="#bcbd22"  stroke="#bcbd22" stroke-width="0.7" stroke-linejoin="round">c</text>
<text transform="translate(265.44,60.47) scale(1.2758,1)" font-family="Liberation Serif" font-weight="normal" font-style="italic" font-size="21.50" fill="#bcbd22"  stroke="#bcbd22" stroke-width="0.7" stroke-linejoin="round">g</text>
<text transform="translate(280.88,60.47) scale(1.7123,1)" font-family="Liberation Serif" font-weight="normal" font-style="italic" font-size="24.32" fill="#bcbd22"  stroke="#bcbd22" stroke-width="0.7" stroke-linejoin="round">f</text>
<text transform="translate(233.44,730.35) scale(1.5515,1)" font-family="Liberation Serif" font-weight="normal" font-style="italic" font-size="33.78" fill="#bcbd22"  stroke="#bcbd22" stroke-width="0.7" stroke-linejoin="round">u</text>
<text transform="translate(258.63,735.16) scale(1.7224,1)" font-family="Liberation Serif" font-weight="normal" font-style="italic" font-size="19.34" fill="#bcbd22"  stroke="#bcbd22" stroke-width="0.7" stroke-linejoin="round">c</text>
<text transform="translate(274.34,736.17) scale(1.2758,1)" font-family="Liberation Serif" font-weight="normal" font-style="italic" font-size="21.50" fill="#bcbd22"  stroke="#bcbd22" stroke-width="0.7" stroke-linejoin="round">g</text>
<text transform="translate(289.78,736.17) scale(1.7123,1)" font-family="Liberation Serif" font-weight="normal" font-style="italic" font-size="24.32" fill="#bcbd22"  stroke="#bcbd22" stroke-width="0.7" stroke-linejoin="round">f</text>
<text transform="translate(210.48,222.27) scale(1.0178,1)" font-family="Liberation Sans" font-weight="normal" font-style="normal" font-size="33.76" fill="#4453a6" >FBCM</text>
<text transform="translate(172.30,251.31) scale(1.6181,1)" font-family="Liberation Serif" font-weight="normal" font-style="italic" font-size="29.11" fill="#4453a6"  stroke="#4453a6" stroke-width="0.7" stroke-linejoin="round">u</text>
<text transform="translate(195.43,257.71) scale(1.7182,1)" font-family="Liberation Serif" font-weight="normal" font-style="italic" font-size="24.26" fill="#4453a6"  stroke="#4453a6" stroke-width="0.7" stroke-linejoin="round">init</text>
<rect x="268.00" y="239.20" width="27.4" height="2.3" fill="#4453a6"/>
<rect x="268.00" y="249.10" width="27.4" height="2.3" fill="#4453a6"/>
<text transform="translate(307.92,251.31) scale(1.6098,1)" font-family="Liberation Serif" font-weight="normal" font-style="italic" font-size="29.11" fill="#4453a6"  stroke="#4453a6" stroke-width="0.7" stroke-linejoin="round">u</text>
<text transform="translate(332.37,257.46) scale(1.6453,1)" font-family="Liberation Serif" font-weight="normal" font-style="italic" font-size="19.34" fill="#4453a6"  stroke="#4453a6" stroke-width="0.7" stroke-linejoin="round">c</text>
<text transform="translate(347.34,258.20) scale(1.3521,1)" font-family="Liberation Serif" font-weight="normal" font-style="italic" font-size="20.92" fill="#4453a6"  stroke="#4453a6" stroke-width="0.7" stroke-linejoin="round">g</text>
<text transform="translate(362.90,256.82) scale(1.7665,1)" font-family="Liberation Serif" font-weight="normal" font-style="italic" font-size="22.68" fill="#4453a6"  stroke="#4453a6" stroke-width="0.7" stroke-linejoin="round">f</text>
<text transform="translate(210.98,877.97) scale(1.0178,1)" font-family="Liberation Sans" font-weight="normal" font-style="normal" font-size="33.76" fill="#4453a6" >FBCM</text>
<text transform="translate(172.30,908.51) scale(1.6181,1)" font-family="Liberation Serif" font-weight="normal" font-style="italic" font-size="29.11" fill="#4453a6"  stroke="#4453a6" stroke-width="0.7" stroke-linejoin="round">u</text>
<text transform="translate(195.43,914.91) scale(1.7182,1)" font-family="Liberation Serif" font-weight="normal" font-style="italic" font-size="24.26" fill="#4453a6"  stroke="#4453a6" stroke-width="0.7" stroke-linejoin="round">init</text>
<rect x="268.00" y="896.40" width="27.4" height="2.3" fill="#4453a6"/>
<rect x="268.00" y="906.30" width="27.4" height="2.3" fill="#4453a6"/>
<text transform="translate(307.92,908.51) scale(1.6098,1)" font-family="Liberation Serif" font-weight="normal" font-style="italic" font-size="29.11" fill="#4453a6"  stroke="#4453a6" stroke-width="0.7" stroke-linejoin="round">u</text>
<text transform="translate(332.37,914.66) scale(1.6453,1)" font-family="Liberation Serif" font-weight="normal" font-style="italic" font-size="19.34" fill="#4453a6"  stroke="#4453a6" stroke-width="0.7" stroke-linejoin="round">c</text>
<text transform="translate(347.34,915.40) scale(1.3521,1)" font-family="Liberation Serif" font-weight="normal" font-style="italic" font-size="20.92" fill="#4453a6"  stroke="#4453a6" stroke-width="0.7" stroke-linejoin="round">g</text>
<text transform="translate(362.90,914.02) scale(1.7665,1)" font-family="Liberation Serif" font-weight="normal" font-style="italic" font-size="22.68" fill="#4453a6"  stroke="#4453a6" stroke-width="0.7" stroke-linejoin="round">f</text>
<text transform="translate(262.88,415.17) scale(1.0178,1)" font-family="Liberation Sans" font-weight="normal" font-style="normal" font-size="33.76" fill="#000" >FBCM</text>
<text transform="translate(225.40,442.81) scale(1.6181,1)" font-family="Liberation Serif" font-weight="normal" font-style="italic" font-size="29.11" fill="#000"  stroke="#000" stroke-width="0.7" stroke-linejoin="round">u</text>
<text transform="translate(248.53,449.21) scale(1.7182,1)" font-family="Liberation Serif" font-weight="normal" font-style="italic" font-size="24.26" fill="#000"  stroke="#000" stroke-width="0.7" stroke-linejoin="round">init</text>
<rect x="321.10" y="430.70" width="27.4" height="2.3" fill="#000"/>
<rect x="321.10" y="440.60" width="27.4" height="2.3" fill="#000"/>
<text transform="translate(360.12,444.32) scale(1.4370,1)" font-family="Liberation Serif" font-weight="normal" font-style="normal" font-size="28.90" fill="#000"  stroke="#000" stroke-width="1.2" stroke-linejoin="round">0</text>
<text transform="translate(262.88,1088.07) scale(1.0178,1)" font-family="Liberation Sans" font-weight="normal" font-style="normal" font-size="33.76" fill="#000" >FBCM</text>
<text transform="translate(225.40,1115.71) scale(1.6181,1)" font-family="Liberation Serif" font-weight="normal" font-style="italic" font-size="29.11" fill="#000"  stroke="#000" stroke-width="0.7" stroke-linejoin="round">u</text>
<text transform="translate(248.53,1122.11) scale(1.7182,1)" font-family="Liberation Serif" font-weight="normal" font-style="italic" font-size="24.26" fill="#000"  stroke="#000" stroke-width="0.7" stroke-linejoin="round">init</text>
<rect x="321.10" y="1103.60" width="27.4" height="2.3" fill="#000"/>
<rect x="321.10" y="1113.50" width="27.4" height="2.3" fill="#000"/>
<text transform="translate(360.12,1117.22) scale(1.4370,1)" font-family="Liberation Serif" font-weight="normal" font-style="normal" font-size="28.90" fill="#000"  stroke="#000" stroke-width="1.2" stroke-linejoin="round">0</text>
</svg>
</body></html>
